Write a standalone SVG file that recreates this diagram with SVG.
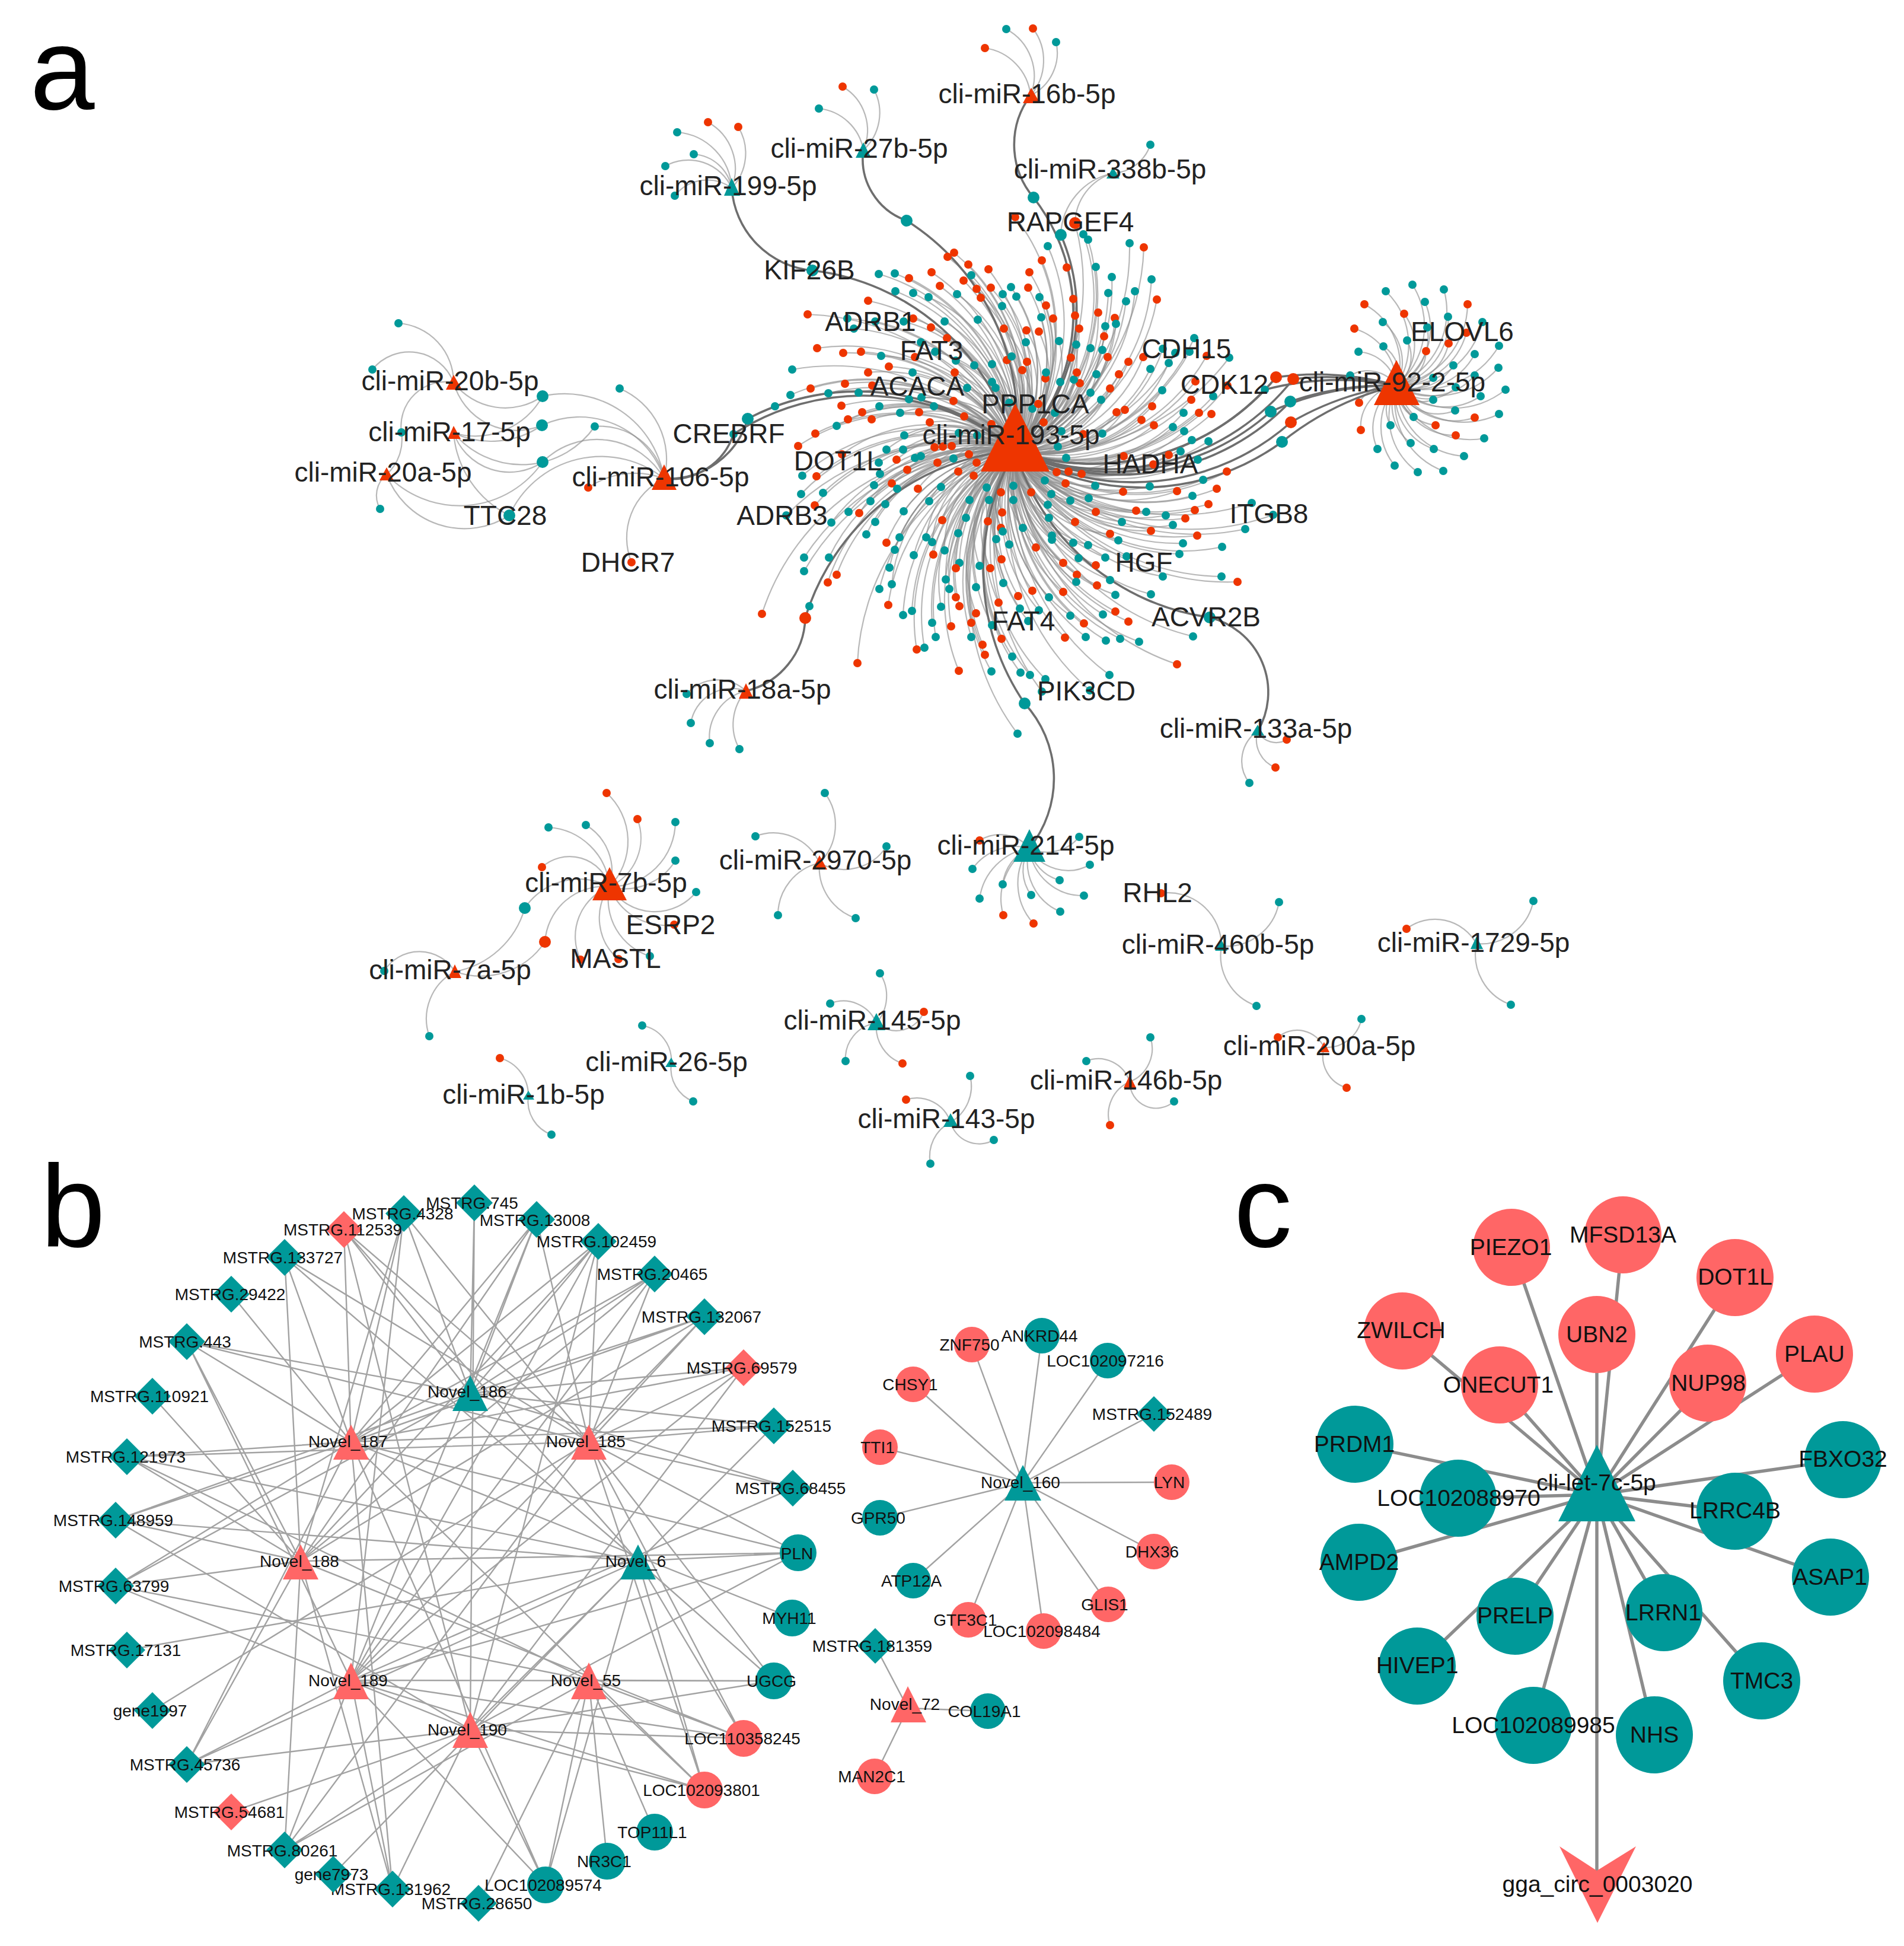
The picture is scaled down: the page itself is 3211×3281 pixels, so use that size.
<svg xmlns="http://www.w3.org/2000/svg" width="3211" height="3281" viewBox="0 0 3211 3281">
<style>
.r{fill:#ee3500;r:7px}.t{fill:#099;r:7px}.R{fill:#ee3500;r:10px}.T{fill:#099;r:10px}
.hr{fill:#ee3500}.ht{fill:#099}.pr{fill:#ff6666}.pt{fill:#099}
#ea path{fill:none;stroke:#8c8c8c;stroke-width:2.2;opacity:.62}
#eb path{fill:none;stroke:#6e6e6e;stroke-width:3.6}
#ec polyline,#ec path{fill:none;stroke:#a2a2a2;stroke-width:2.4}
#ed path{fill:none;stroke:#8c8c8c;stroke-width:5.5}
text{font-family:"Liberation Sans",Arial,sans-serif;text-anchor:middle}
.la{font-size:46px;fill:#222}.lb{font-size:28px;fill:#111}.lc{font-size:39px;fill:#111}.big{font-size:196px;fill:#000}
</style>
<rect width="3211" height="3281" fill="#fff"/>
<g id="connectors">
<g id="ea">
<path d="M1598 433A320 320 0 0 1 1712 760"/><path d="M1609 426A320 320 0 0 1 1712 760"/><path d="M1633 446A320 320 0 0 1 1712 760"/><path d="M1667 454A320 320 0 0 1 1712 760"/><path d="M1571 459A320 320 0 0 1 1712 760"/><path d="M1638 464A320 320 0 0 1 1712 760"/><path d="M1533 469A320 320 0 0 1 1712 760"/><path d="M1509 461A320 320 0 0 1 1712 760"/><path d="M1482 462A320 320 0 0 1 1712 760"/><path d="M1625 473A320 320 0 0 1 1712 760"/><path d="M1585 482A320 320 0 0 1 1712 760"/><path d="M1647 487A250 250 0 0 1 1712 760"/><path d="M1671 485A250 250 0 0 1 1712 760"/><path d="M1705 484A250 250 0 0 1 1712 760"/><path d="M1734 485A250 250 0 0 1 1712 760"/><path d="M1510 491A320 320 0 0 1 1712 760"/><path d="M1540 494A320 320 0 0 1 1712 760"/><path d="M1566 501A250 250 0 0 1 1712 760"/><path d="M1614 496A250 250 0 0 1 1712 760"/><path d="M1654 502A250 250 0 0 1 1712 760"/><path d="M1691 496A250 250 0 0 1 1712 760"/><path d="M1714 500A250 250 0 0 1 1712 760"/><path d="M1753 501A250 250 0 0 1 1712 760"/><path d="M1464 507A320 320 0 0 1 1712 760"/><path d="M1690 516A250 250 0 0 1 1712 760"/><path d="M1764 515A250 250 0 0 1 1712 760"/><path d="M1810 504A250 250 0 0 1 1712 760"/><path d="M1757 439A320 320 0 0 1 1712 760"/><path d="M1799 451A320 320 0 0 1 1712 760"/><path d="M1736 459A250 250 0 0 1 1712 760"/><path d="M1767 415A320 320 0 0 1 1712 760"/><path d="M1827 395A320 320 0 0 1 1712 760"/><path d="M1835 404A320 320 0 0 1 1712 760"/><path d="M1905 410A400 400 0 0 1 1712 760"/><path d="M1929 417A400 400 0 0 1 1712 760"/><path d="M1848 450A320 320 0 0 1 1712 760"/><path d="M1875 467A320 320 0 0 1 1712 760"/><path d="M1942 471A320 320 0 0 1 1712 760"/><path d="M1869 494A320 320 0 0 1 1712 760"/><path d="M1914 491A320 320 0 0 1 1712 760"/><path d="M1951 505A320 320 0 0 1 1712 760"/><path d="M1899 508A320 320 0 0 1 1712 760"/><path d="M1852 527A250 250 0 0 1 1712 760"/><path d="M1880 536A250 250 0 0 1 1712 760"/><path d="M1864 550A250 250 0 0 1 1712 760"/><path d="M1882 546A250 250 0 0 1 1712 760"/><path d="M1813 532A250 250 0 0 1 1712 760"/><path d="M1776 537A250 250 0 0 1 1712 760"/><path d="M1756 535A250 250 0 0 1 1712 760"/><path d="M1820 554A250 250 0 0 1 1712 760"/><path d="M1862 567A250 250 0 0 1 1712 760"/><path d="M1752 559A170 170 0 0 1 1712 760"/><path d="M1731 557A170 170 0 0 1 1712 760"/><path d="M1693 554A170 170 0 0 1 1712 760"/><path d="M1649 539A250 250 0 0 1 1712 760"/><path d="M1593 542A250 250 0 0 1 1712 760"/><path d="M1540 537A250 250 0 0 1 1712 760"/><path d="M1524 542A250 250 0 0 1 1712 760"/><path d="M1570 552A250 250 0 0 1 1712 760"/><path d="M1429 537A320 320 0 0 1 1712 760"/><path d="M1440 554A320 320 0 0 1 1712 760"/><path d="M1476 542A320 320 0 0 1 1712 760"/><path d="M1362 530A400 400 0 0 1 1712 760"/><path d="M1597 570A250 250 0 0 1 1712 760"/><path d="M1730 577A170 170 0 0 1 1712 760"/><path d="M1786 575A170 170 0 0 1 1712 760"/><path d="M1815 581A170 170 0 0 1 1712 760"/><path d="M1839 587A250 250 0 0 1 1712 760"/><path d="M1859 590A250 250 0 0 1 1712 760"/><path d="M1868 602A250 250 0 0 1 1712 760"/><path d="M1806 603A170 170 0 0 1 1712 760"/><path d="M1903 610A250 250 0 0 1 1712 760"/><path d="M1928 602A250 250 0 0 1 1712 760"/><path d="M1940 622A250 250 0 0 1 1712 760"/><path d="M1971 612A250 250 0 0 1 1712 760"/><path d="M2014 570A320 320 0 0 1 1712 760"/><path d="M1961 588A250 250 0 0 1 1712 760"/><path d="M1982 595A320 320 0 0 1 1712 760"/><path d="M2006 593A320 320 0 0 1 1712 760"/><path d="M2035 600A320 320 0 0 1 1712 760"/><path d="M2073 603A400 400 0 0 1 1712 760"/><path d="M2016 643A320 320 0 0 1 1712 760"/><path d="M2070 650A320 320 0 0 1 1712 760"/><path d="M2046 668A320 320 0 0 1 1712 760"/><path d="M2009 674A320 320 0 0 1 1712 760"/><path d="M1960 658A250 250 0 0 1 1712 760"/><path d="M1943 685A250 250 0 0 1 1712 760"/><path d="M1887 631A250 250 0 0 1 1712 760"/><path d="M1872 655A170 170 0 0 1 1712 760"/><path d="M1849 631A170 170 0 0 1 1712 760"/><path d="M1839 662A170 170 0 0 1 1712 760"/><path d="M1857 674A170 170 0 0 1 1712 760"/><path d="M1821 646A170 170 0 0 1 1712 760"/><path d="M1811 640A170 170 0 0 1 1712 760"/><path d="M1816 628A170 170 0 0 1 1712 760"/><path d="M1788 644A170 170 0 0 1 1712 760"/><path d="M1763 638A120 120 0 0 1 1712 760"/><path d="M1764 628A170 170 0 0 1 1712 760"/><path d="M1732 610A170 170 0 0 1 1712 760"/><path d="M1724 624A120 120 0 0 1 1712 760"/><path d="M1698 607A170 170 0 0 1 1712 760"/><path d="M1706 601A170 170 0 0 1 1712 760"/><path d="M1673 614A170 170 0 0 1 1712 760"/><path d="M1643 616A170 170 0 0 1 1712 760"/><path d="M1610 628A170 170 0 0 1 1712 760"/><path d="M1612 608A170 170 0 0 1 1712 760"/><path d="M1577 593A170 170 0 0 1 1712 760"/><path d="M1553 577A250 250 0 0 1 1712 760"/><path d="M1543 602A250 250 0 0 1 1712 760"/><path d="M1486 600A250 250 0 0 1 1712 760"/><path d="M1452 593A320 320 0 0 1 1712 760"/><path d="M1422 595A320 320 0 0 1 1712 760"/><path d="M1378 587A320 320 0 0 1 1712 760"/><path d="M1336 623A400 400 0 0 1 1712 760"/><path d="M1499 618A250 250 0 0 1 1712 760"/><path d="M1464 628A250 250 0 0 1 1712 760"/><path d="M1539 628A250 250 0 0 1 1712 760"/><path d="M1673 644A120 120 0 0 1 1712 760"/><path d="M1679 654A120 120 0 0 1 1712 760"/><path d="M1631 654A120 120 0 0 1 1712 760"/><path d="M1425 647A320 320 0 0 1 1712 760"/><path d="M1367 655A320 320 0 0 1 1712 760"/><path d="M1333 666A320 320 0 0 1 1712 760"/><path d="M1397 663A320 320 0 0 1 1712 760"/><path d="M1448 662A250 250 0 0 1 1712 760"/><path d="M1471 650A250 250 0 0 1 1712 760"/><path d="M1307 685A400 400 0 0 1 1712 760"/><path d="M1419 684A320 320 0 0 1 1712 760"/><path d="M1483 685A250 250 0 0 1 1712 760"/><path d="M1533 673A170 170 0 0 1 1712 760"/><path d="M1554 670A170 170 0 0 1 1712 760"/><path d="M1608 676A120 120 0 0 1 1712 760"/><path d="M1575 685A170 170 0 0 1 1712 760"/><path d="M1702 679A90 90 0 0 1 1712 760"/><path d="M1741 689A90 90 0 0 1 1712 760"/><path d="M1751 681A90 90 0 0 1 1712 760"/><path d="M1779 696A90 90 0 0 1 1712 760"/><path d="M1883 695A170 170 0 0 1 1712 760"/><path d="M1897 691A170 170 0 0 1 1712 760"/><path d="M2022 696A320 320 0 0 1 1712 760"/><path d="M1996 696A250 250 0 0 1 1712 760"/><path d="M2043 698A320 320 0 0 1 1712 760"/><path d="M1518 696A170 170 0 0 1 1712 760"/><path d="M1454 695A250 250 0 0 1 1712 760"/><path d="M1550 695A170 170 0 0 1 1712 760"/><path d="M1430 707A250 250 0 0 1 1712 760"/><path d="M1470 707A250 250 0 0 1 1712 760"/><path d="M1411 718A250 250 0 0 1 1712 760"/><path d="M1375 731A320 320 0 0 1 1712 760"/><path d="M1346 752A320 320 0 0 1 1712 760"/><path d="M1568 712A170 170 0 0 1 1712 760"/><path d="M1626 702A90 90 0 0 1 1712 760"/><path d="M1672 715A60 60 0 0 1 1712 760"/><path d="M1760 712A60 60 0 0 1 1712 760"/><path d="M1525 734A170 170 0 0 1 1712 760"/><path d="M1617 730A90 90 0 0 1 1712 760"/><path d="M1648 734A60 60 0 0 1 1712 760"/><path d="M1495 758A170 170 0 0 1 1712 760"/><path d="M1523 758A170 170 0 0 1 1712 760"/><path d="M1576 754A120 120 0 0 1 1712 760"/><path d="M1605 752A90 90 0 0 1 1712 760"/><path d="M1590 753A120 120 0 0 1 1712 760"/><path d="M1634 766A60 60 0 0 1 1712 760"/><path d="M1420 766A250 250 0 0 1 1712 760"/><path d="M1353 802A320 320 0 0 1 1712 760"/><path d="M1377 803A320 320 0 0 1 1712 760"/><path d="M1482 780A250 250 0 0 1 1712 760"/><path d="M1484 799A250 250 0 0 1 1712 760"/><path d="M1512 775A170 170 0 0 1 1712 760"/><path d="M1543 772A170 170 0 0 1 1712 760"/><path d="M1553 769A170 170 0 0 1 1712 760"/><path d="M1581 780A120 120 0 0 1 1712 760"/><path d="M1608 773A90 90 0 0 1 1712 760"/><path d="M1647 780A60 60 0 0 1 1712 760"/><path d="M1616 795A90 90 0 0 1 1712 760"/><path d="M1530 792A170 170 0 0 1 1712 760"/><path d="M1642 802A90 90 0 0 1 1712 760"/><path d="M1504 815A250 250 0 0 1 1712 760"/><path d="M1474 818A250 250 0 0 1 1712 760"/><path d="M1513 824A250 250 0 0 1 1712 760"/><path d="M1548 824A170 170 0 0 1 1712 760"/><path d="M1587 821A170 170 0 0 1 1712 760"/><path d="M1664 822A90 90 0 0 1 1712 760"/><path d="M1709 819A60 60 0 0 1 1712 760"/><path d="M1688 830A60 60 0 0 1 1712 760"/><path d="M1739 830A60 60 0 0 1 1712 760"/><path d="M1762 810A60 60 0 0 1 1712 760"/><path d="M1797 815A90 90 0 0 1 1712 760"/><path d="M1782 796A90 90 0 0 1 1712 760"/><path d="M1802 795A90 90 0 0 1 1712 760"/><path d="M1824 799A120 120 0 0 1 1712 760"/><path d="M1798 772A90 90 0 0 1 1712 760"/><path d="M1773 833A90 90 0 0 1 1712 760"/><path d="M1351 833A320 320 0 0 1 1712 760"/><path d="M1388 831A320 320 0 0 1 1712 760"/><path d="M1374 852A320 320 0 0 1 1712 760"/><path d="M1326 869A400 400 0 0 1 1712 760"/><path d="M1468 845A250 250 0 0 1 1712 760"/><path d="M1493 850A250 250 0 0 1 1712 760"/><path d="M1567 845A170 170 0 0 1 1712 760"/><path d="M1635 843A120 120 0 0 1 1712 760"/><path d="M1668 843A90 90 0 0 1 1712 760"/><path d="M1709 843A90 90 0 0 1 1712 760"/><path d="M1767 851A120 120 0 0 1 1712 760"/><path d="M1805 844A120 120 0 0 1 1712 760"/><path d="M1836 840A170 170 0 0 1 1712 760"/><path d="M1847 819A170 170 0 0 1 1712 760"/><path d="M1894 829A170 170 0 0 1 1712 760"/><path d="M1939 820A250 250 0 0 1 1712 760"/><path d="M1985 828A250 250 0 0 1 1712 760"/><path d="M2029 809A320 320 0 0 1 1712 760"/><path d="M2052 824A320 320 0 0 1 1712 760"/><path d="M2069 795A320 320 0 0 1 1712 760"/><path d="M2011 836A320 320 0 0 1 1712 760"/><path d="M2020 775A320 320 0 0 1 1712 760"/><path d="M1991 761A250 250 0 0 1 1712 760"/><path d="M1971 767A250 250 0 0 1 1712 760"/><path d="M1945 783A250 250 0 0 1 1712 760"/><path d="M1895 769A170 170 0 0 1 1712 760"/><path d="M2038 744A320 320 0 0 1 1712 760"/><path d="M2010 742A250 250 0 0 1 1712 760"/><path d="M1997 727A250 250 0 0 1 1712 760"/><path d="M1978 720A250 250 0 0 1 1712 760"/><path d="M1946 717A250 250 0 0 1 1712 760"/><path d="M1925 708A250 250 0 0 1 1712 760"/><path d="M1859 731A170 170 0 0 1 1712 760"/><path d="M1827 732A120 120 0 0 1 1712 760"/><path d="M1790 727A90 90 0 0 1 1712 760"/><path d="M1784 753A90 90 0 0 1 1712 760"/><path d="M1449 865A250 250 0 0 1 1712 760"/><path d="M1431 863A320 320 0 0 1 1712 760"/><path d="M1402 881A320 320 0 0 1 1712 760"/><path d="M1524 862A250 250 0 0 1 1712 760"/><path d="M1476 880A250 250 0 0 1 1712 760"/><path d="M1589 877A170 170 0 0 1 1712 760"/><path d="M1629 873A170 170 0 0 1 1712 760"/><path d="M1666 879A120 120 0 0 1 1712 760"/><path d="M1690 864A90 90 0 0 1 1712 760"/><path d="M1769 873A120 120 0 0 1 1712 760"/><path d="M1813 880A170 170 0 0 1 1712 760"/><path d="M1848 863A170 170 0 0 1 1712 760"/><path d="M1892 880A250 250 0 0 1 1712 760"/><path d="M1916 861A250 250 0 0 1 1712 760"/><path d="M1933 863A250 250 0 0 1 1712 760"/><path d="M1966 869A250 250 0 0 1 1712 760"/><path d="M1978 885A250 250 0 0 1 1712 760"/><path d="M1999 874A320 320 0 0 1 1712 760"/><path d="M2015 860A320 320 0 0 1 1712 760"/><path d="M2038 850A320 320 0 0 1 1712 760"/><path d="M2111 848A400 400 0 0 1 1712 760"/><path d="M2147 868A400 400 0 0 1 1712 760"/><path d="M2100 892A400 400 0 0 1 1712 760"/><path d="M2019 903A320 320 0 0 1 1712 760"/><path d="M1941 895A250 250 0 0 1 1712 760"/><path d="M1872 900A170 170 0 0 1 1712 760"/><path d="M1886 911A250 250 0 0 1 1712 760"/><path d="M1835 919A170 170 0 0 1 1712 760"/><path d="M1810 915A170 170 0 0 1 1712 760"/><path d="M1774 903A170 170 0 0 1 1712 760"/><path d="M1774 910A170 170 0 0 1 1712 760"/><path d="M1725 890A120 120 0 0 1 1712 760"/><path d="M1688 890A120 120 0 0 1 1712 760"/><path d="M1691 896A120 120 0 0 1 1712 760"/><path d="M1680 909A170 170 0 0 1 1712 760"/><path d="M1702 918A170 170 0 0 1 1712 760"/><path d="M1747 923A170 170 0 0 1 1712 760"/><path d="M1616 899A170 170 0 0 1 1712 760"/><path d="M1562 906A170 170 0 0 1 1712 760"/><path d="M1572 914A170 170 0 0 1 1712 760"/><path d="M1517 906A250 250 0 0 1 1712 760"/><path d="M1461 901A250 250 0 0 1 1712 760"/><path d="M1495 915A250 250 0 0 1 1712 760"/><path d="M1509 927A250 250 0 0 1 1712 760"/><path d="M1541 936A250 250 0 0 1 1712 760"/><path d="M1574 935A250 250 0 0 1 1712 760"/><path d="M1593 928A170 170 0 0 1 1712 760"/><path d="M1618 949A250 250 0 0 1 1712 760"/><path d="M1612 958A250 250 0 0 1 1712 760"/><path d="M1652 954A170 170 0 0 1 1712 760"/><path d="M1670 958A170 170 0 0 1 1712 760"/><path d="M1689 943A170 170 0 0 1 1712 760"/><path d="M1793 949A170 170 0 0 1 1712 760"/><path d="M1819 941A250 250 0 0 1 1712 760"/><path d="M1864 940A250 250 0 0 1 1712 760"/><path d="M1900 938A250 250 0 0 1 1712 760"/><path d="M1848 953A250 250 0 0 1 1712 760"/><path d="M1816 969A250 250 0 0 1 1712 760"/><path d="M1815 981A250 250 0 0 1 1712 760"/><path d="M1850 987A250 250 0 0 1 1712 760"/><path d="M1872 978A250 250 0 0 1 1712 760"/><path d="M1961 972A320 320 0 0 1 1712 760"/><path d="M1989 934A320 320 0 0 1 1712 760"/><path d="M1995 916A320 320 0 0 1 1712 760"/><path d="M2061 922A320 320 0 0 1 1712 760"/><path d="M2060 972A400 400 0 0 1 1712 760"/><path d="M2087 981A400 400 0 0 1 1712 760"/><path d="M1941 1002A320 320 0 0 1 1712 760"/><path d="M1881 1003A250 250 0 0 1 1712 760"/><path d="M1793 998A250 250 0 0 1 1712 760"/><path d="M1769 1007A250 250 0 0 1 1712 760"/><path d="M1741 996A250 250 0 0 1 1712 760"/><path d="M1717 1005A250 250 0 0 1 1712 760"/><path d="M1692 983A250 250 0 0 1 1712 760"/><path d="M1646 990A250 250 0 0 1 1712 760"/><path d="M1595 977A250 250 0 0 1 1712 760"/><path d="M1601 993A250 250 0 0 1 1712 760"/><path d="M1612 1007A250 250 0 0 1 1712 760"/><path d="M1618 1022A250 250 0 0 1 1712 760"/><path d="M1587 1023A250 250 0 0 1 1712 760"/><path d="M1684 1016A250 250 0 0 1 1712 760"/><path d="M1720 1026A250 250 0 0 1 1712 760"/><path d="M1752 1029A250 250 0 0 1 1712 760"/><path d="M1881 1031A320 320 0 0 1 1712 760"/><path d="M1860 1036A320 320 0 0 1 1712 760"/><path d="M1903 1048A320 320 0 0 1 1712 760"/><path d="M1805 1038A250 250 0 0 1 1712 760"/><path d="M1828 1051A320 320 0 0 1 1712 760"/><path d="M1734 1047A250 250 0 0 1 1712 760"/><path d="M2012 1073A400 400 0 0 1 1712 760"/><path d="M1921 1082A320 320 0 0 1 1712 760"/><path d="M1889 1077A320 320 0 0 1 1712 760"/><path d="M1865 1080A320 320 0 0 1 1712 760"/><path d="M1831 1074A320 320 0 0 1 1712 760"/><path d="M1796 1075A320 320 0 0 1 1712 760"/><path d="M1689 1077A320 320 0 0 1 1712 760"/><path d="M1673 1054A250 250 0 0 1 1712 760"/><path d="M1638 1050A320 320 0 0 1 1712 760"/><path d="M1646 1034A250 250 0 0 1 1712 760"/><path d="M1638 1074A320 320 0 0 1 1712 760"/><path d="M1572 1050A320 320 0 0 1 1712 760"/><path d="M1604 1056A320 320 0 0 1 1712 760"/><path d="M1578 1074A320 320 0 0 1 1712 760"/><path d="M1538 1030A320 320 0 0 1 1712 760"/><path d="M1523 1037A320 320 0 0 1 1712 760"/><path d="M1498 1020A320 320 0 0 1 1712 760"/><path d="M1483 993A320 320 0 0 1 1712 760"/><path d="M1504 985A250 250 0 0 1 1712 760"/><path d="M1500 957A250 250 0 0 1 1712 760"/><path d="M1411 969A320 320 0 0 1 1712 760"/><path d="M1396 982A320 320 0 0 1 1712 760"/><path d="M1398 940A320 320 0 0 1 1712 760"/><path d="M1356 940A400 400 0 0 1 1712 760"/><path d="M1356 963A400 400 0 0 1 1712 760"/><path d="M1365 1022A400 400 0 0 1 1712 760"/><path d="M1285 1035A400 400 0 0 1 1712 760"/><path d="M1446 1118A400 400 0 0 1 1712 760"/><path d="M1546 1095A320 320 0 0 1 1712 760"/><path d="M1559 1092A320 320 0 0 1 1712 760"/><path d="M1617 1131A320 320 0 0 1 1712 760"/><path d="M1657 1087A320 320 0 0 1 1712 760"/><path d="M1661 1104A320 320 0 0 1 1712 760"/><path d="M1707 1107A320 320 0 0 1 1712 760"/><path d="M1672 1132A320 320 0 0 1 1712 760"/><path d="M1721 1134A320 320 0 0 1 1712 760"/><path d="M1737 1138A320 320 0 0 1 1712 760"/><path d="M1763 1145A320 320 0 0 1 1712 760"/><path d="M1757 1166A400 400 0 0 1 1712 760"/><path d="M1838 1164A400 400 0 0 1 1712 760"/><path d="M1871 1138A400 400 0 0 1 1712 760"/><path d="M1985 1120A400 400 0 0 1 1712 760"/><path d="M1716 1237A400 400 0 0 1 1712 760"/><path d="M1712 366A320 320 0 0 1 1712 760"/><path d="M1813 376A400 400 0 0 1 1712 760"/>
<path d="M1697 49A90 90 0 0 1 1738 161"/><path d="M1742 48A90 90 0 0 1 1738 161"/><path d="M1781 71A80 80 0 0 1 1738 161"/><path d="M1661 81A90 90 0 0 1 1738 161"/>
<path d="M1940 244A70 70 0 0 1 1877 292"/><path d="M1813 376A90 90 0 0 1 1877 292"/><path d="M1789 396A110 110 0 0 1 1877 292"/>
<path d="M1421 146A85 85 0 0 1 1456 253"/><path d="M1474 151A85 85 0 0 1 1456 253"/><path d="M1381 183A85 85 0 0 1 1456 253"/>
<path d="M1194 206A90 90 0 0 1 1234 317"/><path d="M1245 214A85 85 0 0 1 1234 317"/><path d="M1142 223A100 100 0 0 1 1234 317"/><path d="M1170 260A70 70 0 0 1 1234 317"/><path d="M1122 280A80 80 0 0 1 1234 317"/><path d="M1138 330A70 70 0 0 1 1234 317"/>
<path d="M2382 480A130 130 0 0 1 2355 650"/><path d="M2337 491A125 125 0 0 1 2355 650"/><path d="M2435 488A135 135 0 0 1 2355 650"/><path d="M2403 509A110 110 0 0 1 2355 650"/><path d="M2301 513A115 115 0 0 1 2355 650"/><path d="M2475 513A140 140 0 0 1 2355 650"/><path d="M2368 529A90 90 0 0 1 2355 650"/><path d="M2442 534A110 110 0 0 1 2355 650"/><path d="M2332 543A85 85 0 0 1 2355 650"/><path d="M2500 543A140 140 0 0 1 2355 650"/><path d="M2284 554A100 100 0 0 1 2355 650"/><path d="M2407 552A90 90 0 0 1 2355 650"/><path d="M2473 561A120 120 0 0 1 2355 650"/><path d="M2373 574A60 60 0 0 1 2355 650"/><path d="M2443 579A90 90 0 0 1 2355 650"/><path d="M2333 584A55 55 0 0 1 2355 650"/><path d="M2528 583A150 150 0 0 1 2355 650"/><path d="M2405 592A60 60 0 0 1 2355 650"/><path d="M2291 593A70 70 0 0 1 2355 650"/><path d="M2487 597A110 110 0 0 1 2355 650"/><path d="M2451 616A80 80 0 0 1 2355 650"/><path d="M2527 620A140 140 0 0 1 2355 650"/><path d="M2277 633A60 60 0 0 1 2355 650"/><path d="M2417 637A50 50 0 0 1 2355 650"/><path d="M2487 633A100 100 0 0 1 2355 650"/><path d="M2455 653A70 70 0 0 1 2355 650"/><path d="M2539 657A140 140 0 0 1 2355 650"/><path d="M2497 668A110 110 0 0 1 2355 650"/><path d="M2417 674A50 50 0 0 1 2355 650"/><path d="M2292 679A60 60 0 0 1 2355 650"/><path d="M2454 692A75 75 0 0 1 2355 650"/><path d="M2528 698A135 135 0 0 1 2355 650"/><path d="M2384 703A60 60 0 0 1 2355 650"/><path d="M2487 704A110 110 0 0 1 2355 650"/><path d="M2421 717A75 75 0 0 1 2355 650"/><path d="M2295 725A70 70 0 0 1 2355 650"/><path d="M2345 717A55 55 0 0 1 2355 650"/><path d="M2455 734A100 100 0 0 1 2355 650"/><path d="M2503 739A130 130 0 0 1 2355 650"/><path d="M2379 747A80 80 0 0 1 2355 650"/><path d="M2418 757A95 95 0 0 1 2355 650"/><path d="M2469 769A120 120 0 0 1 2355 650"/><path d="M2323 757A85 85 0 0 1 2355 650"/><path d="M2352 785A105 105 0 0 1 2355 650"/><path d="M2391 796A115 115 0 0 1 2355 650"/><path d="M2434 794A125 125 0 0 1 2355 650"/>
<path d="M672 545A100 100 0 0 1 765 645"/><path d="M628 623A80 80 0 0 1 765 645"/><path d="M915 668A110 110 0 0 1 765 645"/><path d="M914 717A110 110 0 0 1 765 645"/><path d="M677 729A75 75 0 0 1 765 645"/>
<path d="M915 668A130 130 0 0 1 765 730"/><path d="M914 717A150 150 0 0 1 765 730"/><path d="M1003 719A150 150 0 0 1 765 730"/><path d="M915 779A100 100 0 0 1 765 730"/><path d="M859 869A170 170 0 0 1 765 730"/>
<path d="M677 729A80 80 0 0 1 652 800"/><path d="M915 779A170 170 0 0 1 652 800"/><path d="M859 869A140 140 0 0 1 652 800"/><path d="M641 858A45 45 0 0 1 652 800"/>
<path d="M915 668A170 170 0 0 1 1120 807"/><path d="M914 717A150 150 0 0 1 1120 807"/><path d="M1003 719A110 110 0 0 1 1120 807"/><path d="M1045 655A130 130 0 0 1 1120 807"/><path d="M915 779A130 130 0 0 1 1120 807"/><path d="M859 869A170 170 0 0 1 1120 807"/><path d="M992 822A140 140 0 0 1 1120 807"/><path d="M1065 948A110 110 0 0 1 1120 807"/>
<path d="M1158 1170A70 70 0 0 1 1258 1165"/><path d="M1165 1219A70 70 0 0 1 1258 1165"/><path d="M1197 1253A80 80 0 0 1 1258 1165"/><path d="M1247 1263A85 85 0 0 1 1258 1165"/>
<path d="M1391 1337A90 90 0 0 1 1382 1455"/><path d="M1274 1410A85 85 0 0 1 1382 1455"/><path d="M1495 1427A85 85 0 0 1 1382 1455"/><path d="M1312 1543A90 90 0 0 1 1382 1455"/><path d="M1443 1548A90 90 0 0 1 1382 1455"/>
<path d="M1652 1417A65 65 0 0 1 1736 1430"/><path d="M1820 1411A70 70 0 0 1 1736 1430"/><path d="M1640 1465A90 90 0 0 1 1736 1430"/><path d="M1838 1458A75 75 0 0 1 1736 1430"/><path d="M1691 1491A75 75 0 0 1 1736 1430"/><path d="M1787 1484A70 70 0 0 1 1736 1430"/><path d="M1652 1515A100 100 0 0 1 1736 1430"/><path d="M1739 1509A70 70 0 0 1 1736 1430"/><path d="M1828 1510A90 90 0 0 1 1736 1430"/><path d="M1788 1537A90 90 0 0 1 1736 1430"/><path d="M1692 1543A100 100 0 0 1 1736 1430"/><path d="M1743 1557A100 100 0 0 1 1736 1430"/>
<path d="M1023 1337A110 110 0 0 1 1028 1495"/><path d="M1075 1381A90 90 0 0 1 1028 1495"/><path d="M925 1395A110 110 0 0 1 1028 1495"/><path d="M988 1391A90 90 0 0 1 1028 1495"/><path d="M1139 1386A110 110 0 0 1 1028 1495"/><path d="M1139 1451A100 100 0 0 1 1028 1495"/><path d="M914 1462A70 70 0 0 1 1028 1495"/><path d="M1174 1504A90 90 0 0 1 1028 1495"/><path d="M885 1531A110 110 0 0 1 1028 1495"/><path d="M919 1588A100 100 0 0 1 1028 1495"/><path d="M1137 1559A100 100 0 0 1 1028 1495"/><path d="M979 1618A90 90 0 0 1 1028 1495"/><path d="M1043 1617A90 90 0 0 1 1028 1495"/><path d="M1096 1612A100 100 0 0 1 1028 1495"/>
<path d="M885 1531A150 150 0 0 1 767 1638"/><path d="M919 1588A130 130 0 0 1 767 1638"/><path d="M648 1637A70 70 0 0 1 767 1638"/><path d="M724 1747A90 90 0 0 1 767 1638"/>
<path d="M1083 1729A60 60 0 0 1 1132 1793"/><path d="M1169 1857A60 60 0 0 1 1132 1793"/>
<path d="M843 1784A65 65 0 0 1 891 1848"/><path d="M930 1913A60 60 0 0 1 891 1848"/>
<path d="M1484 1641A70 70 0 0 1 1478 1725"/><path d="M1400 1692A60 60 0 0 1 1478 1725"/><path d="M1558 1706A50 50 0 0 1 1478 1725"/><path d="M1426 1789A60 60 0 0 1 1478 1725"/><path d="M1522 1793A65 65 0 0 1 1478 1725"/>
<path d="M1636 1814A70 70 0 0 1 1603 1892"/><path d="M1528 1854A60 60 0 0 1 1603 1892"/><path d="M1676 1922A50 50 0 0 1 1603 1892"/><path d="M1569 1962A65 65 0 0 1 1603 1892"/>
<path d="M1958 1506A90 90 0 0 1 2060 1595"/><path d="M2157 1521A90 90 0 0 1 2060 1595"/><path d="M2119 1696A90 90 0 0 1 2060 1595"/>
<path d="M2372 1566A80 80 0 0 1 2490 1591"/><path d="M2586 1519A90 90 0 0 1 2490 1591"/><path d="M2548 1694A90 90 0 0 1 2490 1591"/>
<path d="M2155 1749A50 50 0 0 1 2233 1766"/><path d="M2296 1718A60 60 0 0 1 2233 1766"/><path d="M2271 1834A55 55 0 0 1 2233 1766"/>
<path d="M1940 1749A60 60 0 0 1 1905 1824"/><path d="M1832 1789A55 55 0 0 1 1905 1824"/><path d="M1980 1857A45 45 0 0 1 1905 1824"/><path d="M1872 1897A60 60 0 0 1 1905 1824"/>
<path d="M2170 1247A35 35 0 0 1 2121 1233"/><path d="M2151 1294A50 50 0 0 1 2121 1233"/><path d="M2107 1320A60 60 0 0 1 2121 1233"/>
</g>
<g id="eb">
<path d="M1743 333A138 138 0 0 1 1738 161"/><path d="M1743 333A320 320 0 0 1 1712 760"/><path d="M1529 372A110 110 0 0 1 1456 253"/><path d="M1529 372A400 400 0 0 1 1712 760"/><path d="M1370 456A150 150 0 0 1 1234 317"/><path d="M1370 456A400 400 0 0 1 1712 760"/><path d="M1261 706A140 140 0 0 1 1120 807"/><path d="M1261 706A400 400 0 0 1 1712 760"/><path d="M1237 732A110 110 0 0 1 1120 807"/><path d="M1237 732A400 400 0 0 1 1712 760"/><path d="M1358 1042A130 130 0 0 1 1258 1165"/><path d="M1358 1042A400 400 0 0 1 1712 760"/><path d="M1728 1186A187 187 0 0 1 1736 1430"/><path d="M1728 1186A400 400 0 0 1 1712 760"/><path d="M2040 1041A130 130 0 0 1 2121 1233"/><path d="M2040 1041A400 400 0 0 1 1712 760"/><path d="M1789 396A320 320 0 0 1 1712 760"/>
<path d="M2152 636A500 500 0 0 1 2355 650"/><path d="M2152 636A400 400 0 0 1 1712 760"/><path d="M2181 639A500 500 0 0 1 2355 650"/><path d="M2181 639A400 400 0 0 1 1712 760"/><path d="M2133 657A500 500 0 0 1 2355 650"/><path d="M2133 657A400 400 0 0 1 1712 760"/><path d="M2176 677A500 500 0 0 1 2355 650"/><path d="M2176 677A400 400 0 0 1 1712 760"/><path d="M2143 694A500 500 0 0 1 2355 650"/><path d="M2143 694A400 400 0 0 1 1712 760"/><path d="M2177 712A500 500 0 0 1 2355 650"/><path d="M2177 712A400 400 0 0 1 1712 760"/><path d="M2162 745A500 500 0 0 1 2355 650"/><path d="M2162 745A400 400 0 0 1 1712 760"/>
</g>
<g id="ec">
<polyline points="800,2028 793,2349 800,2028 793,2916"/>
<polyline points="681,2046 592,2431 681,2046 507,2632 681,2046 793,2349 681,2046 993,2431 681,2046 592,2833"/>
<polyline points="580,2073 592,2431 580,2073 993,2431 580,2073 1076,2632 580,2073 793,2916 580,2073 793,2349"/>
<polyline points="905,2056 592,2431 905,2056 507,2632 905,2056 793,2349 905,2056 592,2833 905,2056 993,2431"/>
<polyline points="1009,2093 793,2349 1009,2093 592,2431 1009,2093 507,2632 1009,2093 592,2833 1009,2093 793,2916 1009,2093 993,2431"/>
<polyline points="480,2120 592,2431 480,2120 507,2632 480,2120 993,2431 480,2120 1076,2632"/>
<polyline points="1104,2148 793,2349 1104,2148 592,2431 1104,2148 507,2632 1104,2148 592,2833 1104,2148 993,2431"/>
<polyline points="390,2182 592,2431"/>
<polyline points="1188,2220 793,2349 1188,2220 592,2431 1188,2220 507,2632 1188,2220 993,2431 1188,2220 592,2833"/>
<polyline points="315,2262 793,2349 315,2262 993,2431 315,2262 592,2431 315,2262 507,2632 315,2262 592,2833"/>
<polyline points="1254,2306 793,2349 1254,2306 592,2431 1254,2306 993,2431 1254,2306 592,2833 1254,2306 793,2916"/>
<polyline points="257,2354 507,2632"/>
<polyline points="1305,2404 793,2349 1305,2404 592,2431 1305,2404 993,2431 1305,2404 793,2916"/>
<polyline points="214,2456 592,2431 214,2456 993,2431 214,2456 507,2632 214,2456 1076,2632 214,2456 993,2833"/>
<polyline points="1337,2509 793,2349 1337,2509 993,2431 1337,2509 592,2833"/>
<polyline points="195,2563 592,2431 195,2563 793,2349 195,2563 507,2632 195,2563 1076,2632 195,2563 793,2916"/>
<polyline points="195,2674 592,2431 195,2674 793,2349 195,2674 507,2632 195,2674 993,2833 195,2674 793,2916"/>
<polyline points="214,2782 1076,2632"/>
<polyline points="257,2884 993,2431"/>
<polyline points="315,2975 592,2431 315,2975 507,2632 315,2975 592,2833 315,2975 1076,2632 315,2975 793,2916"/>
<polyline points="390,3055 793,2916"/>
<polyline points="480,3119 507,2632 480,3119 993,2431 480,3119 592,2833 480,3119 793,2916 480,3119 993,2833"/>
<polyline points="562,3160 1076,2632"/>
<polyline points="662,3185 592,2431 662,3185 592,2833 662,3185 793,2916 662,3185 507,2632"/>
<polyline points="807,3209 993,2833"/>
<polyline points="1346,2618 592,2431 1346,2618 507,2632 1346,2618 993,2431 1346,2618 1076,2632 1346,2618 592,2833 1346,2618 793,2916"/>
<polyline points="1336,2728 592,2431"/>
<polyline points="1305,2834 592,2833 1305,2834 993,2833 1305,2834 1076,2632 1305,2834 993,2431 1305,2834 793,2916"/>
<polyline points="1254,2931 592,2833 1254,2931 993,2833 1254,2931 1076,2632 1254,2931 993,2431 1254,2931 793,2916 1254,2931 507,2632"/>
<polyline points="1188,3018 592,2833 1188,3018 993,2833 1188,3018 1076,2632 1188,3018 793,2916 1188,3018 592,2431 1188,3018 993,2431"/>
<polyline points="1104,3089 993,2833"/>
<polyline points="1024,3138 993,2833"/>
<polyline points="920,3178 793,2916 920,3178 1076,2632 920,3178 592,2833 920,3178 993,2833 920,3178 592,2431"/>
<path d="M1725 2500L1639 2267M1725 2500L1757 2252M1725 2500L1868 2294M1725 2500L1540 2334M1725 2500L1946 2384M1725 2500L1484 2440M1725 2500L1976 2499M1725 2500L1484 2559M1725 2500L1946 2616M1725 2500L1540 2665M1725 2500L1869 2705M1725 2500L1633 2731M1725 2500L1760 2750M1531 2880L1476 2775M1531 2880L1666 2885M1531 2880L1475 2995"/>
</g>
<g id="ed">
<path d="M2693 2520L2549 2103M2693 2520L2737 2082M2693 2520L2926 2154M2693 2520L2365 2244M2693 2520L2693 2250M2693 2520L3060 2283M2693 2520L2529 2335M2693 2520L2880 2332M2693 2520L2285 2435M2693 2520L3108 2461M2693 2520L2459 2526M2693 2520L2926 2548M2693 2520L2292 2634M2693 2520L3087 2659M2693 2520L2555 2725M2693 2520L2806 2719M2693 2520L2390 2809M2693 2520L2971 2834M2693 2520L2586 2909M2693 2520L2790 2925M2693 2520L2693 3155"/>
</g>
</g>
<g id="panel-a-targets">
<g id="a1"><circle class="r" cx="1598" cy="433"/></g><g id="a2"><circle class="r" cx="1609" cy="426"/></g><g id="a3"><circle class="r" cx="1633" cy="446"/></g><g id="a4"><circle class="r" cx="1667" cy="454"/></g><g id="a5"><circle class="r" cx="1571" cy="459"/></g><g id="a6"><circle class="t" cx="1638" cy="464"/></g><g id="a7"><circle class="r" cx="1533" cy="469"/></g><g id="a8"><circle class="t" cx="1509" cy="461"/></g><g id="a9"><circle class="t" cx="1482" cy="462"/></g><g id="a10"><circle class="r" cx="1625" cy="473"/></g><g id="a11"><circle class="r" cx="1585" cy="482"/></g><g id="a12"><circle class="r" cx="1647" cy="487"/></g><g id="a13"><circle class="r" cx="1671" cy="485"/></g><g id="a14"><circle class="t" cx="1705" cy="484"/></g><g id="a15"><circle class="r" cx="1734" cy="485"/></g><g id="a16"><circle class="t" cx="1510" cy="491"/></g><g id="a17"><circle class="t" cx="1540" cy="494"/></g><g id="a18"><circle class="t" cx="1566" cy="501"/></g><g id="a19"><circle class="t" cx="1614" cy="496"/></g><g id="a20"><circle class="r" cx="1654" cy="502"/></g><g id="a21"><circle class="t" cx="1691" cy="496"/></g><g id="a22"><circle class="t" cx="1714" cy="500"/></g><g id="a23"><circle class="t" cx="1753" cy="501"/></g><g id="a24"><circle class="r" cx="1464" cy="507"/></g><g id="a25"><circle class="t" cx="1690" cy="516"/></g><g id="a26"><circle class="r" cx="1764" cy="515"/></g><g id="a27"><circle class="r" cx="1810" cy="504"/></g><g id="a28"><circle class="r" cx="1757" cy="439"/></g><g id="a29"><circle class="r" cx="1799" cy="451"/></g><g id="a30"><circle class="r" cx="1736" cy="459"/></g><g id="a31"><circle class="t" cx="1767" cy="415"/></g><g id="a32"><circle class="T" cx="1789" cy="396"/></g><g id="a33"><circle class="t" cx="1827" cy="395"/></g><g id="a34"><circle class="t" cx="1835" cy="404"/></g><g id="a35"><circle class="t" cx="1905" cy="410"/></g><g id="a36"><circle class="r" cx="1929" cy="417"/></g><g id="a37"><circle class="t" cx="1848" cy="450"/></g><g id="a38"><circle class="t" cx="1875" cy="467"/></g><g id="a39"><circle class="t" cx="1942" cy="471"/></g><g id="a40"><circle class="t" cx="1869" cy="494"/></g><g id="a41"><circle class="t" cx="1914" cy="491"/></g><g id="a42"><circle class="r" cx="1951" cy="505"/></g><g id="a43"><circle class="t" cx="1899" cy="508"/></g><g id="a44"><circle class="r" cx="1852" cy="527"/></g><g id="a45"><circle class="r" cx="1880" cy="536"/></g><g id="a46"><circle class="t" cx="1864" cy="550"/></g><g id="a47"><circle class="t" cx="1882" cy="546"/></g><g id="a48"><circle class="r" cx="1813" cy="532"/></g><g id="a49"><circle class="r" cx="1776" cy="537"/></g><g id="a50"><circle class="t" cx="1756" cy="535"/></g><g id="a51"><circle class="r" cx="1820" cy="554"/></g><g id="a52"><circle class="r" cx="1862" cy="567"/></g><g id="a53"><circle class="r" cx="1752" cy="559"/></g><g id="a54"><circle class="r" cx="1731" cy="557"/></g><g id="a55"><circle class="r" cx="1693" cy="554"/></g><g id="a56"><circle class="t" cx="1649" cy="539"/></g><g id="a57"><circle class="t" cx="1593" cy="542"/></g><g id="a58"><circle class="r" cx="1540" cy="537"/></g><g id="a59"><circle class="t" cx="1524" cy="542"/></g><g id="a60"><circle class="r" cx="1570" cy="552"/></g><g id="a61"><circle class="t" cx="1429" cy="537"/></g><g id="a62"><circle class="t" cx="1440" cy="554"/></g><g id="a63"><circle class="t" cx="1476" cy="542"/></g><g id="a64"><circle class="r" cx="1362" cy="530"/></g><g id="a65"><circle class="r" cx="1597" cy="570"/></g><g id="a66"><circle class="t" cx="1730" cy="577"/></g><g id="a67"><circle class="t" cx="1786" cy="575"/></g><g id="a68"><circle class="t" cx="1815" cy="581"/></g><g id="a69"><circle class="t" cx="1839" cy="587"/></g><g id="a70"><circle class="t" cx="1859" cy="590"/></g><g id="a71"><circle class="r" cx="1868" cy="602"/></g><g id="a72"><circle class="r" cx="1806" cy="603"/></g><g id="a73"><circle class="r" cx="1903" cy="610"/></g><g id="a74"><circle class="r" cx="1928" cy="602"/></g><g id="a75"><circle class="t" cx="1940" cy="622"/></g><g id="a76"><circle class="t" cx="1971" cy="612"/></g><g id="a77"><circle class="t" cx="2014" cy="570"/></g><g id="a78"><circle class="t" cx="1961" cy="588"/></g><g id="a79"><circle class="t" cx="1982" cy="595"/></g><g id="a80"><circle class="t" cx="2006" cy="593"/></g><g id="a81"><circle class="r" cx="2035" cy="600"/></g><g id="a82"><circle class="t" cx="2073" cy="603"/></g><g id="a83"><circle class="r" cx="2016" cy="643"/></g><g id="a84"><circle class="r" cx="2070" cy="650"/></g><g id="a85"><circle class="t" cx="2046" cy="668"/></g><g id="a86"><circle class="r" cx="2009" cy="674"/></g><g id="a87"><circle class="t" cx="1960" cy="658"/></g><g id="a88"><circle class="r" cx="1943" cy="685"/></g><g id="a89"><circle class="r" cx="1887" cy="631"/></g><g id="a90"><circle class="r" cx="1872" cy="655"/></g><g id="a91"><circle class="t" cx="1849" cy="631"/></g><g id="a92"><circle class="t" cx="1839" cy="662"/></g><g id="a93"><circle class="t" cx="1857" cy="674"/></g><g id="a94"><circle class="r" cx="1821" cy="646"/></g><g id="a95"><circle class="t" cx="1811" cy="640"/></g><g id="a96"><circle class="r" cx="1816" cy="628"/></g><g id="a97"><circle class="t" cx="1788" cy="644"/></g><g id="a98"><circle class="r" cx="1763" cy="638"/></g><g id="a99"><circle class="t" cx="1764" cy="628"/></g><g id="a100"><circle class="r" cx="1732" cy="610"/></g><g id="a101"><circle class="r" cx="1724" cy="624"/></g><g id="a102"><circle class="r" cx="1698" cy="607"/></g><g id="a103"><circle class="t" cx="1706" cy="601"/></g><g id="a104"><circle class="t" cx="1673" cy="614"/></g><g id="a105"><circle class="t" cx="1643" cy="616"/></g><g id="a106"><circle class="r" cx="1610" cy="628"/></g><g id="a107"><circle class="t" cx="1612" cy="608"/></g><g id="a108"><circle class="t" cx="1577" cy="593"/></g><g id="a109"><circle class="t" cx="1553" cy="577"/></g><g id="a110"><circle class="r" cx="1543" cy="602"/></g><g id="a111"><circle class="t" cx="1486" cy="600"/></g><g id="a112"><circle class="r" cx="1452" cy="593"/></g><g id="a113"><circle class="r" cx="1422" cy="595"/></g><g id="a114"><circle class="r" cx="1378" cy="587"/></g><g id="a115"><circle class="t" cx="1336" cy="623"/></g><g id="a116"><circle class="r" cx="1499" cy="618"/></g><g id="a117"><circle class="r" cx="1464" cy="628"/></g><g id="a118"><circle class="t" cx="1539" cy="628"/></g><g id="a119"><circle class="t" cx="1673" cy="644"/></g><g id="a120"><circle class="t" cx="1679" cy="654"/></g><g id="a121"><circle class="t" cx="1631" cy="654"/></g><g id="a122"><circle class="r" cx="1425" cy="647"/></g><g id="a123"><circle class="r" cx="1367" cy="655"/></g><g id="a124"><circle class="t" cx="1333" cy="666"/></g><g id="a125"><circle class="t" cx="1397" cy="663"/></g><g id="a126"><circle class="t" cx="1448" cy="662"/></g><g id="a127"><circle class="r" cx="1471" cy="650"/></g><g id="a128"><circle class="t" cx="1307" cy="685"/></g><g id="a129"><circle class="r" cx="1419" cy="684"/></g><g id="a130"><circle class="t" cx="1483" cy="685"/></g><g id="a131"><circle class="t" cx="1533" cy="673"/></g><g id="a132"><circle class="t" cx="1554" cy="670"/></g><g id="a133"><circle class="r" cx="1608" cy="676"/></g><g id="a134"><circle class="t" cx="1575" cy="685"/></g><g id="a135"><circle class="t" cx="1702" cy="679"/></g><g id="a136"><circle class="t" cx="1741" cy="689"/></g><g id="a137"><circle class="r" cx="1751" cy="681"/></g><g id="a138"><circle class="t" cx="1779" cy="696"/></g><g id="a139"><circle class="r" cx="1883" cy="695"/></g><g id="a140"><circle class="r" cx="1897" cy="691"/></g><g id="a141"><circle class="r" cx="2022" cy="696"/></g><g id="a142"><circle class="t" cx="1996" cy="696"/></g><g id="a143"><circle class="r" cx="2043" cy="698"/></g><g id="a144"><circle class="t" cx="1518" cy="696"/></g><g id="a145"><circle class="r" cx="1454" cy="695"/></g><g id="a146"><circle class="r" cx="1550" cy="695"/></g><g id="a147"><circle class="r" cx="1430" cy="707"/></g><g id="a148"><circle class="r" cx="1470" cy="707"/></g><g id="a149"><circle class="t" cx="1411" cy="718"/></g><g id="a150"><circle class="r" cx="1375" cy="731"/></g><g id="a151"><circle class="r" cx="1346" cy="752"/></g><g id="a152"><circle class="T" cx="1261" cy="706"/></g><g id="a153"><circle class="t" cx="1237" cy="732"/></g><g id="a154"><circle class="r" cx="1568" cy="712"/></g><g id="a155"><circle class="r" cx="1626" cy="702"/></g><g id="a156"><circle class="r" cx="1672" cy="715"/></g><g id="a157"><circle class="r" cx="1760" cy="712"/></g><g id="a158"><circle class="t" cx="1525" cy="734"/></g><g id="a159"><circle class="t" cx="1617" cy="730"/></g><g id="a160"><circle class="t" cx="1648" cy="734"/></g><g id="a161"><circle class="t" cx="1495" cy="758"/></g><g id="a162"><circle class="t" cx="1523" cy="758"/></g><g id="a163"><circle class="r" cx="1576" cy="754"/></g><g id="a164"><circle class="r" cx="1605" cy="752"/></g><g id="a165"><circle class="r" cx="1590" cy="753"/></g><g id="a166"><circle class="r" cx="1634" cy="766"/></g><g id="a167"><circle class="r" cx="1420" cy="766"/></g><g id="a168"><circle class="t" cx="1353" cy="802"/></g><g id="a169"><circle class="r" cx="1377" cy="803"/></g><g id="a170"><circle class="t" cx="1482" cy="780"/></g><g id="a171"><circle class="t" cx="1484" cy="799"/></g><g id="a172"><circle class="r" cx="1512" cy="775"/></g><g id="a173"><circle class="t" cx="1543" cy="772"/></g><g id="a174"><circle class="t" cx="1553" cy="769"/></g><g id="a175"><circle class="r" cx="1581" cy="780"/></g><g id="a176"><circle class="t" cx="1608" cy="773"/></g><g id="a177"><circle class="r" cx="1647" cy="780"/></g><g id="a178"><circle class="r" cx="1616" cy="795"/></g><g id="a179"><circle class="r" cx="1530" cy="792"/></g><g id="a180"><circle class="r" cx="1642" cy="802"/></g><g id="a181"><circle class="r" cx="1504" cy="815"/></g><g id="a182"><circle class="t" cx="1474" cy="818"/></g><g id="a183"><circle class="t" cx="1513" cy="824"/></g><g id="a184"><circle class="r" cx="1548" cy="824"/></g><g id="a185"><circle class="t" cx="1587" cy="821"/></g><g id="a186"><circle class="t" cx="1664" cy="822"/></g><g id="a187"><circle class="t" cx="1709" cy="819"/></g><g id="a188"><circle class="r" cx="1688" cy="830"/></g><g id="a189"><circle class="r" cx="1739" cy="830"/></g><g id="a190"><circle class="t" cx="1762" cy="810"/></g><g id="a191"><circle class="r" cx="1797" cy="815"/></g><g id="a192"><circle class="r" cx="1782" cy="796"/></g><g id="a193"><circle class="r" cx="1802" cy="795"/></g><g id="a194"><circle class="r" cx="1824" cy="799"/></g><g id="a195"><circle class="t" cx="1798" cy="772"/></g><g id="a196"><circle class="t" cx="1773" cy="833"/></g><g id="a197"><circle class="t" cx="1351" cy="833"/></g><g id="a198"><circle class="t" cx="1388" cy="831"/></g><g id="a199"><circle class="r" cx="1374" cy="852"/></g><g id="a200"><circle class="t" cx="1326" cy="869"/></g><g id="a201"><circle class="t" cx="1468" cy="845"/></g><g id="a202"><circle class="t" cx="1493" cy="850"/></g><g id="a203"><circle class="t" cx="1567" cy="845"/></g><g id="a204"><circle class="t" cx="1635" cy="843"/></g><g id="a205"><circle class="t" cx="1668" cy="843"/></g><g id="a206"><circle class="t" cx="1709" cy="843"/></g><g id="a207"><circle class="t" cx="1767" cy="851"/></g><g id="a208"><circle class="t" cx="1805" cy="844"/></g><g id="a209"><circle class="t" cx="1836" cy="840"/></g><g id="a210"><circle class="t" cx="1847" cy="819"/></g><g id="a211"><circle class="r" cx="1894" cy="829"/></g><g id="a212"><circle class="t" cx="1939" cy="820"/></g><g id="a213"><circle class="r" cx="1985" cy="828"/></g><g id="a214"><circle class="t" cx="2029" cy="809"/></g><g id="a215"><circle class="r" cx="2052" cy="824"/></g><g id="a216"><circle class="r" cx="2069" cy="795"/></g><g id="a217"><circle class="t" cx="2011" cy="836"/></g><g id="a218"><circle class="t" cx="2020" cy="775"/></g><g id="a219"><circle class="t" cx="1991" cy="761"/></g><g id="a220"><circle class="r" cx="1971" cy="767"/></g><g id="a221"><circle class="r" cx="1945" cy="783"/></g><g id="a222"><circle class="r" cx="1895" cy="769"/></g><g id="a223"><circle class="t" cx="2038" cy="744"/></g><g id="a224"><circle class="t" cx="2010" cy="742"/></g><g id="a225"><circle class="t" cx="1997" cy="727"/></g><g id="a226"><circle class="t" cx="1978" cy="720"/></g><g id="a227"><circle class="r" cx="1946" cy="717"/></g><g id="a228"><circle class="r" cx="1925" cy="708"/></g><g id="a229"><circle class="t" cx="1859" cy="731"/></g><g id="a230"><circle class="r" cx="1827" cy="732"/></g><g id="a231"><circle class="t" cx="1790" cy="727"/></g><g id="a232"><circle class="t" cx="1784" cy="753"/></g>
<g id="a233"><circle class="r" cx="1449" cy="865"/></g><g id="a234"><circle class="t" cx="1431" cy="863"/></g><g id="a235"><circle class="t" cx="1402" cy="881"/></g><g id="a236"><circle class="t" cx="1524" cy="862"/></g><g id="a237"><circle class="t" cx="1476" cy="880"/></g><g id="a238"><circle class="r" cx="1589" cy="877"/></g><g id="a239"><circle class="t" cx="1629" cy="873"/></g><g id="a240"><circle class="r" cx="1666" cy="879"/></g><g id="a241"><circle class="r" cx="1690" cy="864"/></g><g id="a242"><circle class="t" cx="1769" cy="873"/></g><g id="a243"><circle class="r" cx="1813" cy="880"/></g><g id="a244"><circle class="r" cx="1848" cy="863"/></g><g id="a245"><circle class="t" cx="1892" cy="880"/></g><g id="a246"><circle class="r" cx="1916" cy="861"/></g><g id="a247"><circle class="t" cx="1933" cy="863"/></g><g id="a248"><circle class="t" cx="1966" cy="869"/></g><g id="a249"><circle class="t" cx="1978" cy="885"/></g><g id="a250"><circle class="r" cx="1999" cy="874"/></g><g id="a251"><circle class="r" cx="2015" cy="860"/></g><g id="a252"><circle class="r" cx="2038" cy="850"/></g><g id="a253"><circle class="t" cx="2111" cy="848"/></g><g id="a254"><circle class="t" cx="2147" cy="868"/></g><g id="a255"><circle class="t" cx="2100" cy="892"/></g><g id="a256"><circle class="r" cx="2019" cy="903"/></g><g id="a257"><circle class="r" cx="1941" cy="895"/></g><g id="a258"><circle class="r" cx="1872" cy="900"/></g><g id="a259"><circle class="t" cx="1886" cy="911"/></g><g id="a260"><circle class="t" cx="1835" cy="919"/></g><g id="a261"><circle class="t" cx="1810" cy="915"/></g><g id="a262"><circle class="t" cx="1774" cy="903"/></g><g id="a263"><circle class="t" cx="1774" cy="910"/></g><g id="a264"><circle class="t" cx="1725" cy="890"/></g><g id="a265"><circle class="r" cx="1688" cy="890"/></g><g id="a266"><circle class="t" cx="1691" cy="896"/></g><g id="a267"><circle class="t" cx="1680" cy="909"/></g><g id="a268"><circle class="t" cx="1702" cy="918"/></g><g id="a269"><circle class="r" cx="1747" cy="923"/></g><g id="a270"><circle class="t" cx="1616" cy="899"/></g><g id="a271"><circle class="t" cx="1562" cy="906"/></g><g id="a272"><circle class="t" cx="1572" cy="914"/></g><g id="a273"><circle class="t" cx="1517" cy="906"/></g><g id="a274"><circle class="t" cx="1461" cy="901"/></g><g id="a275"><circle class="r" cx="1495" cy="915"/></g><g id="a276"><circle class="t" cx="1509" cy="927"/></g><g id="a277"><circle class="t" cx="1541" cy="936"/></g><g id="a278"><circle class="r" cx="1574" cy="935"/></g><g id="a279"><circle class="t" cx="1593" cy="928"/></g><g id="a280"><circle class="t" cx="1618" cy="949"/></g><g id="a281"><circle class="r" cx="1612" cy="958"/></g><g id="a282"><circle class="t" cx="1652" cy="954"/></g><g id="a283"><circle class="r" cx="1670" cy="958"/></g><g id="a284"><circle class="r" cx="1689" cy="943"/></g><g id="a285"><circle class="r" cx="1793" cy="949"/></g><g id="a286"><circle class="t" cx="1819" cy="941"/></g><g id="a287"><circle class="t" cx="1864" cy="940"/></g><g id="a288"><circle class="t" cx="1900" cy="938"/></g><g id="a289"><circle class="r" cx="1848" cy="953"/></g><g id="a290"><circle class="r" cx="1816" cy="969"/></g><g id="a291"><circle class="t" cx="1815" cy="981"/></g><g id="a292"><circle class="r" cx="1850" cy="987"/></g><g id="a293"><circle class="t" cx="1872" cy="978"/></g><g id="a294"><circle class="t" cx="1961" cy="972"/></g><g id="a295"><circle class="t" cx="1989" cy="934"/></g><g id="a296"><circle class="t" cx="1995" cy="916"/></g><g id="a297"><circle class="t" cx="2061" cy="922"/></g><g id="a298"><circle class="t" cx="2060" cy="972"/></g><g id="a299"><circle class="r" cx="2087" cy="981"/></g><g id="a300"><circle class="t" cx="1941" cy="1002"/></g><g id="a301"><circle class="t" cx="1881" cy="1003"/></g><g id="a302"><circle class="r" cx="1793" cy="998"/></g><g id="a303"><circle class="t" cx="1769" cy="1007"/></g><g id="a304"><circle class="r" cx="1741" cy="996"/></g><g id="a305"><circle class="r" cx="1717" cy="1005"/></g><g id="a306"><circle class="t" cx="1692" cy="983"/></g><g id="a307"><circle class="t" cx="1646" cy="990"/></g><g id="a308"><circle class="t" cx="1595" cy="977"/></g><g id="a309"><circle class="t" cx="1601" cy="993"/></g><g id="a310"><circle class="r" cx="1612" cy="1007"/></g><g id="a311"><circle class="r" cx="1618" cy="1022"/></g><g id="a312"><circle class="t" cx="1587" cy="1023"/></g><g id="a313"><circle class="r" cx="1684" cy="1016"/></g><g id="a314"><circle class="t" cx="1720" cy="1026"/></g><g id="a315"><circle class="t" cx="1752" cy="1029"/></g><g id="a316"><circle class="r" cx="1881" cy="1031"/></g><g id="a317"><circle class="t" cx="1860" cy="1036"/></g><g id="a318"><circle class="r" cx="1903" cy="1048"/></g><g id="a319"><circle class="t" cx="1805" cy="1038"/></g><g id="a320"><circle class="r" cx="1828" cy="1051"/></g><g id="a321"><circle class="t" cx="1734" cy="1047"/></g><g id="a322"><circle class="T" cx="2040" cy="1041"/></g><g id="a323"><circle class="t" cx="2012" cy="1073"/></g><g id="a324"><circle class="t" cx="1921" cy="1082"/></g><g id="a325"><circle class="t" cx="1889" cy="1077"/></g><g id="a326"><circle class="t" cx="1865" cy="1080"/></g><g id="a327"><circle class="t" cx="1831" cy="1074"/></g><g id="a328"><circle class="r" cx="1796" cy="1075"/></g><g id="a329"><circle class="r" cx="1689" cy="1077"/></g><g id="a330"><circle class="t" cx="1673" cy="1054"/></g><g id="a331"><circle class="r" cx="1638" cy="1050"/></g><g id="a332"><circle class="r" cx="1646" cy="1034"/></g><g id="a333"><circle class="t" cx="1638" cy="1074"/></g><g id="a334"><circle class="t" cx="1572" cy="1050"/></g><g id="a335"><circle class="r" cx="1604" cy="1056"/></g><g id="a336"><circle class="t" cx="1578" cy="1074"/></g><g id="a337"><circle class="t" cx="1538" cy="1030"/></g><g id="a338"><circle class="t" cx="1523" cy="1037"/></g><g id="a339"><circle class="r" cx="1498" cy="1020"/></g><g id="a340"><circle class="t" cx="1483" cy="993"/></g><g id="a341"><circle class="t" cx="1504" cy="985"/></g><g id="a342"><circle class="t" cx="1500" cy="957"/></g><g id="a343"><circle class="r" cx="1411" cy="969"/></g><g id="a344"><circle class="r" cx="1396" cy="982"/></g><g id="a345"><circle class="t" cx="1398" cy="940"/></g><g id="a346"><circle class="t" cx="1356" cy="940"/></g><g id="a347"><circle class="t" cx="1356" cy="963"/></g><g id="a348"><circle class="t" cx="1365" cy="1022"/></g><g id="a349"><circle class="R" cx="1358" cy="1042"/></g><g id="a350"><circle class="r" cx="1285" cy="1035"/></g><g id="a351"><circle class="r" cx="1446" cy="1118"/></g><g id="a352"><circle class="r" cx="1546" cy="1095"/></g><g id="a353"><circle class="t" cx="1559" cy="1092"/></g><g id="a354"><circle class="r" cx="1617" cy="1131"/></g><g id="a355"><circle class="r" cx="1657" cy="1087"/></g><g id="a356"><circle class="r" cx="1661" cy="1104"/></g><g id="a357"><circle class="t" cx="1707" cy="1107"/></g><g id="a358"><circle class="t" cx="1672" cy="1132"/></g><g id="a359"><circle class="t" cx="1721" cy="1134"/></g><g id="a360"><circle class="t" cx="1737" cy="1138"/></g><g id="a361"><circle class="t" cx="1763" cy="1145"/></g><g id="a362"><circle class="t" cx="1757" cy="1166"/></g><g id="a363"><circle class="t" cx="1838" cy="1164"/></g><g id="a364"><circle class="t" cx="1871" cy="1138"/></g><g id="a365"><circle class="r" cx="1985" cy="1120"/></g><g id="a366"><circle class="t" cx="1716" cy="1237"/></g><g id="a367"><circle class="T" cx="1728" cy="1186"/></g><g id="a368"><circle class="r" cx="1712" cy="366"/></g><g id="a369"><circle class="R" cx="1813" cy="376"/></g><g id="a370"><circle class="T" cx="1743" cy="333"/></g><g id="a371"><circle class="T" cx="1529" cy="372"/></g><g id="a372"><circle class="T" cx="1370" cy="456"/></g>
<g id="a373"><circle class="R" cx="2152" cy="636"/></g><g id="a374"><circle class="R" cx="2181" cy="639"/></g><g id="a375"><circle class="t" cx="2133" cy="657"/></g><g id="a376"><circle class="T" cx="2176" cy="677"/></g><g id="a377"><circle class="T" cx="2143" cy="694"/></g><g id="a378"><circle class="R" cx="2177" cy="712"/></g><g id="a379"><circle class="T" cx="2162" cy="745"/></g>
<g id="b1"><circle class="t" cx="1697" cy="49"/></g><g id="b2"><circle class="r" cx="1742" cy="48"/></g><g id="b3"><circle class="t" cx="1781" cy="71"/></g><g id="b4"><circle class="r" cx="1661" cy="81"/></g><g id="b5"><circle class="t" cx="1940" cy="244"/></g><g id="b6"><circle class="r" cx="1421" cy="146"/></g><g id="b7"><circle class="t" cx="1474" cy="151"/></g><g id="b8"><circle class="t" cx="1381" cy="183"/></g><g id="b9"><circle class="r" cx="1194" cy="206"/></g><g id="b10"><circle class="r" cx="1245" cy="214"/></g><g id="b11"><circle class="t" cx="1142" cy="223"/></g><g id="b12"><circle class="t" cx="1170" cy="260"/></g><g id="b13"><circle class="t" cx="1122" cy="280"/></g><g id="b14"><circle class="t" cx="1138" cy="330"/></g>
<g id="c1"><circle class="t" cx="2382" cy="480"/></g><g id="c2"><circle class="t" cx="2337" cy="491"/></g><g id="c3"><circle class="t" cx="2435" cy="488"/></g><g id="c4"><circle class="t" cx="2403" cy="509"/></g><g id="c5"><circle class="r" cx="2301" cy="513"/></g><g id="c6"><circle class="r" cx="2475" cy="513"/></g><g id="c7"><circle class="r" cx="2368" cy="529"/></g><g id="c8"><circle class="t" cx="2442" cy="534"/></g><g id="c9"><circle class="t" cx="2332" cy="543"/></g><g id="c10"><circle class="t" cx="2500" cy="543"/></g><g id="c11"><circle class="r" cx="2284" cy="554"/></g><g id="c12"><circle class="t" cx="2407" cy="552"/></g><g id="c13"><circle class="r" cx="2473" cy="561"/></g><g id="c14"><circle class="t" cx="2373" cy="574"/></g><g id="c15"><circle class="r" cx="2443" cy="579"/></g><g id="c16"><circle class="t" cx="2333" cy="584"/></g><g id="c17"><circle class="t" cx="2528" cy="583"/></g><g id="c18"><circle class="r" cx="2405" cy="592"/></g><g id="c19"><circle class="t" cx="2291" cy="593"/></g><g id="c20"><circle class="t" cx="2487" cy="597"/></g><g id="c21"><circle class="t" cx="2451" cy="616"/></g><g id="c22"><circle class="t" cx="2527" cy="620"/></g><g id="c23"><circle class="t" cx="2277" cy="633"/></g><g id="c24"><circle class="t" cx="2417" cy="637"/></g><g id="c25"><circle class="t" cx="2487" cy="633"/></g><g id="c26"><circle class="t" cx="2455" cy="653"/></g><g id="c27"><circle class="t" cx="2539" cy="657"/></g><g id="c28"><circle class="t" cx="2497" cy="668"/></g><g id="c29"><circle class="t" cx="2417" cy="674"/></g><g id="c30"><circle class="r" cx="2292" cy="679"/></g><g id="c31"><circle class="t" cx="2454" cy="692"/></g><g id="c32"><circle class="t" cx="2528" cy="698"/></g><g id="c33"><circle class="t" cx="2384" cy="703"/></g><g id="c34"><circle class="r" cx="2487" cy="704"/></g><g id="c35"><circle class="r" cx="2421" cy="717"/></g><g id="c36"><circle class="r" cx="2295" cy="725"/></g><g id="c37"><circle class="t" cx="2345" cy="717"/></g><g id="c38"><circle class="r" cx="2455" cy="734"/></g><g id="c39"><circle class="t" cx="2503" cy="739"/></g><g id="c40"><circle class="t" cx="2379" cy="747"/></g><g id="c41"><circle class="t" cx="2418" cy="757"/></g><g id="c42"><circle class="t" cx="2469" cy="769"/></g><g id="c43"><circle class="t" cx="2323" cy="757"/></g><g id="c44"><circle class="t" cx="2352" cy="785"/></g><g id="c45"><circle class="t" cx="2391" cy="796"/></g><g id="c46"><circle class="t" cx="2434" cy="794"/></g>
<g id="d1"><circle class="t" cx="672" cy="545"/></g><g id="d2"><circle class="t" cx="628" cy="623"/></g><g id="d3"><circle class="T" cx="915" cy="668"/></g><g id="d4"><circle class="t" cx="1045" cy="655"/></g><g id="d5"><circle class="T" cx="914" cy="717"/></g><g id="d6"><circle class="t" cx="1003" cy="719"/></g><g id="d7"><circle class="t" cx="677" cy="729"/></g><g id="d8"><circle class="T" cx="915" cy="779"/></g><g id="d9"><circle class="r" cx="992" cy="822"/></g><g id="d10"><circle class="t" cx="641" cy="858"/></g><g id="d11"><circle class="T" cx="859" cy="869"/></g><g id="d12"><circle class="r" cx="1065" cy="948"/></g>
<g id="e1"><circle class="t" cx="1158" cy="1170"/></g><g id="e2"><circle class="t" cx="1165" cy="1219"/></g><g id="e3"><circle class="t" cx="1197" cy="1253"/></g><g id="e4"><circle class="t" cx="1247" cy="1263"/></g><g id="e5"><circle class="t" cx="1391" cy="1337"/></g><g id="e6"><circle class="t" cx="1274" cy="1410"/></g><g id="e7"><circle class="t" cx="1495" cy="1427"/></g><g id="e8"><circle class="t" cx="1312" cy="1543"/></g><g id="e9"><circle class="t" cx="1443" cy="1548"/></g>
<g id="f1"><circle class="r" cx="1652" cy="1417"/></g><g id="f2"><circle class="t" cx="1820" cy="1411"/></g><g id="f3"><circle class="t" cx="1640" cy="1465"/></g><g id="f4"><circle class="t" cx="1838" cy="1458"/></g><g id="f5"><circle class="t" cx="1691" cy="1491"/></g><g id="f6"><circle class="t" cx="1787" cy="1484"/></g><g id="f7"><circle class="t" cx="1652" cy="1515"/></g><g id="f8"><circle class="t" cx="1739" cy="1509"/></g><g id="f9"><circle class="t" cx="1828" cy="1510"/></g><g id="f10"><circle class="t" cx="1788" cy="1537"/></g><g id="f11"><circle class="r" cx="1692" cy="1543"/></g><g id="f12"><circle class="r" cx="1743" cy="1557"/></g>
<g id="g1"><circle class="r" cx="1023" cy="1337"/></g><g id="g2"><circle class="r" cx="1075" cy="1381"/></g><g id="g3"><circle class="t" cx="925" cy="1395"/></g><g id="g4"><circle class="t" cx="988" cy="1391"/></g><g id="g5"><circle class="t" cx="1139" cy="1386"/></g><g id="g6"><circle class="t" cx="1139" cy="1451"/></g><g id="g7"><circle class="r" cx="914" cy="1462"/></g><g id="g8"><circle class="t" cx="1174" cy="1504"/></g><g id="g9"><circle class="T" cx="885" cy="1531"/></g><g id="g10"><circle class="R" cx="919" cy="1588"/></g><g id="g11"><circle class="r" cx="1137" cy="1559"/></g><g id="g12"><circle class="r" cx="979" cy="1618"/></g><g id="g13"><circle class="r" cx="1043" cy="1617"/></g><g id="g14"><circle class="t" cx="1096" cy="1612"/></g><g id="g15"><circle class="t" cx="648" cy="1637"/></g><g id="g16"><circle class="t" cx="724" cy="1747"/></g>
<g id="h1"><circle class="t" cx="1083" cy="1729"/></g><g id="h2"><circle class="t" cx="1169" cy="1857"/></g><g id="h3"><circle class="r" cx="843" cy="1784"/></g><g id="h4"><circle class="t" cx="930" cy="1913"/></g><g id="h5"><circle class="t" cx="1484" cy="1641"/></g><g id="h6"><circle class="t" cx="1400" cy="1692"/></g><g id="h7"><circle class="r" cx="1558" cy="1706"/></g><g id="h8"><circle class="t" cx="1426" cy="1789"/></g><g id="h9"><circle class="r" cx="1522" cy="1793"/></g><g id="h10"><circle class="t" cx="1636" cy="1814"/></g><g id="h11"><circle class="r" cx="1528" cy="1854"/></g><g id="h12"><circle class="t" cx="1676" cy="1922"/></g><g id="h13"><circle class="t" cx="1569" cy="1962"/></g><g id="h14"><circle class="r" cx="1958" cy="1506"/></g><g id="h15"><circle class="t" cx="2157" cy="1521"/></g><g id="h16"><circle class="t" cx="2119" cy="1696"/></g><g id="h17"><circle class="r" cx="2372" cy="1566"/></g><g id="h18"><circle class="t" cx="2586" cy="1519"/></g><g id="h19"><circle class="t" cx="2548" cy="1694"/></g><g id="h20"><circle class="r" cx="2155" cy="1749"/></g><g id="h21"><circle class="t" cx="2296" cy="1718"/></g><g id="h22"><circle class="r" cx="2271" cy="1834"/></g><g id="h23"><circle class="t" cx="1940" cy="1749"/></g><g id="h24"><circle class="t" cx="1832" cy="1789"/></g><g id="h25"><circle class="t" cx="1980" cy="1857"/></g><g id="h26"><circle class="r" cx="1872" cy="1897"/></g><g id="h27"><circle class="r" cx="2170" cy="1247"/></g><g id="h28"><circle class="r" cx="2151" cy="1294"/></g><g id="h29"><circle class="t" cx="2107" cy="1320"/></g>
</g>
<g id="panel-a-hubs">
<g id="hub-193"><polygon class="hr" points="1712,680 1654,795 1770,795"/></g>
<g id="hub-92-2"><polygon class="hr" points="2355,607 2317,683 2394,683"/></g>
<g id="hub-16b"><polygon class="hr" points="1739,148 1725,174 1754,174"/></g>
<g id="hub-27b"><polygon class="ht" points="1456,240 1443,266 1469,266"/></g>
<g id="hub-199"><polygon class="ht" points="1234,300 1221,330 1248,330"/></g>
<g id="hub-338b"><polygon class="ht" points="1877,282 1866,301 1888,301"/></g>
<g id="hub-20b"><polygon class="hr" points="765,632 752,657 779,657"/></g>
<g id="hub-17"><polygon class="hr" points="765,718 755,740 777,740"/></g>
<g id="hub-20a"><polygon class="hr" points="652,788 640,810 664,810"/></g>
<g id="hub-106"><polygon class="hr" points="1120,783 1099,826 1141,826"/></g>
<g id="hub-18a"><polygon class="hr" points="1258,1152 1246,1178 1271,1178"/></g>
<g id="hub-133a"><polygon class="ht" points="2121,1222 2110,1240 2132,1240"/></g>
<g id="hub-7b"><polygon class="hr" points="1028,1462 999,1518 1057,1518"/></g>
<g id="hub-7a"><polygon class="hr" points="767,1626 756,1649 778,1649"/></g>
<g id="hub-2970"><polygon class="hr" points="1382,1442 1370,1466 1395,1466"/></g>
<g id="hub-214"><polygon class="ht" points="1736,1398 1709,1453 1763,1453"/></g>
<g id="hub-460b"><polygon class="ht" points="2060,1585 2049,1603 2070,1603"/></g>
<g id="hub-1729"><polygon class="ht" points="2490,1579 2480,1600 2501,1600"/></g>
<g id="hub-145"><polygon class="ht" points="1478,1708 1463,1737 1493,1737"/></g>
<g id="hub-26"><polygon class="ht" points="1132,1783 1122,1799 1141,1799"/></g>
<g id="hub-1b"><polygon class="ht" points="891,1839 882,1854 901,1854"/></g>
<g id="hub-143"><polygon class="ht" points="1603,1877 1591,1900 1616,1900"/></g>
<g id="hub-146b"><polygon class="hr" points="1905,1813 1895,1834 1916,1834"/></g>
<g id="hub-200a"><polygon class="hr" points="2233,1757 2223,1774 2242,1774"/></g>
</g>
<g id="panel-a-labels" class="la">
<text x="1732" y="174">cli-miR-16b-5p</text><text x="1449" y="266">cli-miR-27b-5p</text><text x="1228" y="329">cli-miR-199-5p</text><text x="1872" y="301">cli-miR-338b-5p</text><text x="1805" y="390">RAPGEF4</text><text x="1365" y="471">KIF26B</text><text x="1468" y="558">ADRB1</text><text x="1571" y="607">FAT3</text><text x="2001" y="604">CDH15</text><text x="2065" y="664">CDK12</text><text x="1547" y="667">ACACA</text><text x="1746" y="697">PPP1CA</text><text x="1705" y="749">cli-miR-193-5p</text><text x="1940" y="798">HADHA</text><text x="1229" y="747">CREBRF</text><text x="1413" y="793">DOT1L</text><text x="1319" y="885">ADRB3</text><text x="2140" y="882">ITGB8</text><text x="1929" y="964">HGF</text><text x="2034" y="1056">ACVR2B</text><text x="1726" y="1063">FAT4</text><text x="1832" y="1181">PIK3CD</text><text x="1252" y="1178">cli-miR-18a-5p</text><text x="2118" y="1244">cli-miR-133a-5p</text><text x="2466" y="575">ELOVL6</text><text x="2348" y="660">cli-miR-92-2-5p</text><text x="759" y="658">cli-miR-20b-5p</text><text x="758" y="744">cli-miR-17-5p</text><text x="646" y="812">cli-miR-20a-5p</text><text x="1114" y="820">cli-miR-106-5p</text><text x="852" y="885">TTC28</text><text x="1059" y="964">DHCR7</text><text x="1022" y="1504">cli-miR-7b-5p</text><text x="1131" y="1575">ESRP2</text><text x="1038" y="1632">MASTL</text><text x="759" y="1651">cli-miR-7a-5p</text><text x="1375" y="1466">cli-miR-2970-5p</text><text x="1730" y="1441">cli-miR-214-5p</text><text x="1952" y="1521">RHL2</text><text x="2054" y="1608">cli-miR-460b-5p</text><text x="2485" y="1605">cli-miR-1729-5p</text><text x="2225" y="1779">cli-miR-200a-5p</text><text x="1899" y="1837">cli-miR-146b-5p</text><text x="1596" y="1902">cli-miR-143-5p</text><text x="1471" y="1736">cli-miR-145-5p</text><text x="1124" y="1806">cli-miR-26-5p</text><text x="883" y="1861">cli-miR-1b-5p</text>
</g>
<g id="panel-b-nodes" class="lb">
<g id="m745"><polygon class="pt" points="800,1997 831,2028 800,2059 769,2028"/><text x="796" y="2038">MSTRG.745</text></g>
<g id="m4328"><polygon class="pt" points="681,2015 712,2046 681,2077 650,2046"/><text x="679" y="2056">MSTRG.4328</text></g>
<g id="m112539"><polygon class="pr" points="580,2042 611,2073 580,2104 549,2073"/><text x="578" y="2083">MSTRG.112539</text></g>
<g id="m13008"><polygon class="pt" points="905,2025 936,2056 905,2087 874,2056"/><text x="902" y="2067">MSTRG.13008</text></g>
<g id="m102459"><polygon class="pt" points="1009,2062 1040,2093 1009,2124 978,2093"/><text x="1006" y="2103">MSTRG.102459</text></g>
<g id="m133727"><polygon class="pt" points="480,2089 511,2120 480,2151 449,2120"/><text x="477" y="2130">MSTRG.133727</text></g>
<g id="m20465"><polygon class="pt" points="1104,2117 1135,2148 1104,2179 1073,2148"/><text x="1100" y="2158">MSTRG.20465</text></g>
<g id="m29422"><polygon class="pt" points="390,2151 421,2182 390,2213 359,2182"/><text x="388" y="2192">MSTRG.29422</text></g>
<g id="m132067"><polygon class="pt" points="1188,2189 1219,2220 1188,2251 1157,2220"/><text x="1183" y="2230">MSTRG.132067</text></g>
<g id="m443"><polygon class="pt" points="315,2231 346,2262 315,2293 284,2262"/><text x="312" y="2272">MSTRG.443</text></g>
<g id="m69579"><polygon class="pr" points="1254,2275 1285,2306 1254,2337 1223,2306"/><text x="1251" y="2316">MSTRG.69579</text></g>
<g id="m110921"><polygon class="pt" points="257,2323 288,2354 257,2385 226,2354"/><text x="252" y="2364">MSTRG.110921</text></g>
<g id="m152515"><polygon class="pt" points="1305,2373 1336,2404 1305,2435 1274,2404"/><text x="1301" y="2414">MSTRG.152515</text></g>
<g id="m121973"><polygon class="pt" points="214,2425 245,2456 214,2487 183,2456"/><text x="212" y="2466">MSTRG.121973</text></g>
<g id="m68455"><polygon class="pt" points="1337,2478 1368,2509 1337,2540 1306,2509"/><text x="1333" y="2519">MSTRG.68455</text></g>
<g id="m148959"><polygon class="pt" points="195,2532 226,2563 195,2594 164,2563"/><text x="191" y="2573">MSTRG.148959</text></g>
<g id="m63799"><polygon class="pt" points="195,2643 226,2674 195,2705 164,2674"/><text x="192" y="2684">MSTRG.63799</text></g>
<g id="m17131"><polygon class="pt" points="214,2751 245,2782 214,2813 183,2782"/><text x="212" y="2792">MSTRG.17131</text></g>
<g id="gene1997"><polygon class="pt" points="257,2853 288,2884 257,2915 226,2884"/><text x="253" y="2894">gene1997</text></g>
<g id="m45736"><polygon class="pt" points="315,2944 346,2975 315,3006 284,2975"/><text x="312" y="2985">MSTRG.45736</text></g>
<g id="m54681"><polygon class="pr" points="390,3024 421,3055 390,3086 359,3055"/><text x="387" y="3065">MSTRG.54681</text></g>
<g id="m80261"><polygon class="pt" points="480,3088 511,3119 480,3150 449,3119"/><text x="476" y="3130">MSTRG.80261</text></g>
<g id="m131962"><polygon class="pt" points="662,3154 693,3185 662,3216 631,3185"/><text x="659" y="3195">MSTRG.131962</text></g>
<g id="gene7973"><polygon class="pt" points="562,3129 593,3160 562,3191 531,3160"/><text x="559" y="3170">gene7973</text></g>
<g id="m28650"><polygon class="pt" points="807,3178 838,3209 807,3240 776,3209"/><text x="804" y="3219">MSTRG.28650</text></g>
<g id="PLN"><circle class="pt" cx="1346" cy="2618" r="31"/><text x="1344" y="2629">PLN</text></g>
<g id="MYH11"><circle class="pt" cx="1336" cy="2728" r="31"/><text x="1331" y="2738">MYH11</text></g>
<g id="UGCG"><circle class="pt" cx="1305" cy="2834" r="31"/><text x="1301" y="2844">UGCG</text></g>
<g id="L358245"><circle class="pr" cx="1254" cy="2931" r="31"/><text x="1252" y="2941">LOC110358245</text></g>
<g id="L093801"><circle class="pr" cx="1188" cy="3018" r="31"/><text x="1183" y="3028">LOC102093801</text></g>
<g id="TOP11L1"><circle class="pt" cx="1104" cy="3089" r="31"/><text x="1100" y="3099">TOP11L1</text></g>
<g id="NR3C1"><circle class="pt" cx="1024" cy="3138" r="31"/><text x="1019" y="3148">NR3C1</text></g>
<g id="L089574"><circle class="pt" cx="920" cy="3178" r="31"/><text x="916" y="3188">LOC102089574</text></g>
<g id="N186"><polygon class="pt" points="793,2319 763,2379 823,2379"/><text x="788" y="2356">Novel_186</text></g>
<g id="N187"><polygon class="pr" points="592,2402 562,2461 622,2461"/><text x="587" y="2440">Novel_187</text></g>
<g id="N185"><polygon class="pr" points="993,2402 963,2461 1023,2461"/><text x="988" y="2440">Novel_185</text></g>
<g id="N188"><polygon class="pr" points="507,2604 477,2663 537,2663"/><text x="505" y="2642">Novel_188</text></g>
<g id="N6"><polygon class="pt" points="1076,2604 1046,2663 1106,2663"/><text x="1072" y="2642">Novel_6</text></g>
<g id="N189"><polygon class="pr" points="592,2803 562,2865 622,2865"/><text x="587" y="2843">Novel_189</text></g>
<g id="N55"><polygon class="pr" points="993,2803 963,2865 1023,2865"/><text x="988" y="2843">Novel_55</text></g>
<g id="N190"><polygon class="pr" points="793,2886 763,2947 823,2947"/><text x="788" y="2926">Novel_190</text></g>
<g id="ZNF750"><circle class="pr" cx="1639" cy="2267" r="30"/><text x="1635" y="2277">ZNF750</text></g>
<g id="ANKRD44"><circle class="pt" cx="1757" cy="2252" r="30"/><text x="1753" y="2262">ANKRD44</text></g>
<g id="L097216"><circle class="pt" cx="1868" cy="2294" r="30"/><text x="1864" y="2304">LOC102097216</text></g>
<g id="CHSY1"><circle class="pr" cx="1540" cy="2334" r="30"/><text x="1535" y="2344">CHSY1</text></g>
<g id="m152489"><polygon class="pt" points="1946,2354 1976,2384 1946,2414 1916,2384"/><text x="1943" y="2394">MSTRG.152489</text></g>
<g id="TTI1"><circle class="pr" cx="1484" cy="2440" r="30"/><text x="1480" y="2450">TTI1</text></g>
<g id="LYN"><circle class="pr" cx="1976" cy="2499" r="30"/><text x="1972" y="2509">LYN</text></g>
<g id="GPR50"><circle class="pt" cx="1484" cy="2559" r="30"/><text x="1481" y="2569">GPR50</text></g>
<g id="DHX36"><circle class="pr" cx="1946" cy="2616" r="30"/><text x="1943" y="2626">DHX36</text></g>
<g id="ATP12A"><circle class="pt" cx="1540" cy="2665" r="30"/><text x="1537" y="2675">ATP12A</text></g>
<g id="GLIS1"><circle class="pr" cx="1869" cy="2705" r="30"/><text x="1863" y="2715">GLIS1</text></g>
<g id="L098484"><circle class="pr" cx="1760" cy="2750" r="30"/></g>
<g id="GTF3C1"><circle class="pr" cx="1633" cy="2731" r="30"/><text x="1628" y="2741">GTF3C1</text></g>
<g id="L098484t"><text x="1757" y="2760">LOC102098484</text></g>
<g id="N160"><polygon class="pt" points="1725,2470 1694,2530 1756,2530"/><text x="1721" y="2509">Novel_160</text></g>
<g id="m181359"><polygon class="pt" points="1476,2745 1506,2775 1476,2805 1446,2775"/><text x="1471" y="2785">MSTRG.181359</text></g>
<g id="N72"><polygon class="pr" points="1531,2843 1502,2904 1562,2904"/><text x="1526" y="2883">Novel_72</text></g>
<g id="COL19A1"><circle class="pt" cx="1666" cy="2885" r="30"/><text x="1660" y="2895">COL19A1</text></g>
<g id="MAN2C1"><circle class="pr" cx="1475" cy="2995" r="30"/><text x="1470" y="3005">MAN2C1</text></g>
</g>
<g id="panel-c-nodes" class="lc">
<g id="PIEZO1"><circle class="pr" cx="2549" cy="2103" r="65"/><text x="2548" y="2116">PIEZO1</text></g>
<g id="MFSD13A"><circle class="pr" cx="2737" cy="2082" r="65"/><text x="2737" y="2095">MFSD13A</text></g>
<g id="DOT1Lc"><circle class="pr" cx="2926" cy="2154" r="65"/><text x="2926" y="2166">DOT1L</text></g>
<g id="ZWILCH"><circle class="pr" cx="2365" cy="2244" r="65"/><text x="2363" y="2256">ZWILCH</text></g>
<g id="UBN2"><circle class="pr" cx="2693" cy="2250" r="65"/><text x="2693" y="2263">UBN2</text></g>
<g id="PLAU"><circle class="pr" cx="3060" cy="2283" r="65"/><text x="3060" y="2296">PLAU</text></g>
<g id="ONECUT1"><circle class="pr" cx="2529" cy="2335" r="65"/><text x="2527" y="2348">ONECUT1</text></g>
<g id="NUP98"><circle class="pr" cx="2880" cy="2332" r="65"/><text x="2881" y="2345">NUP98</text></g>
<g id="PRDM1"><circle class="pt" cx="2285" cy="2435" r="65"/><text x="2284" y="2448">PRDM1</text></g>
<g id="FBXO32"><circle class="pt" cx="3108" cy="2461" r="65"/><text x="3108" y="2473">FBXO32</text></g>
<g id="L088970"><circle class="pt" cx="2459" cy="2526" r="65"/><text x="2460" y="2539">LOC102088970</text></g>
<g id="LRRC4B"><circle class="pt" cx="2926" cy="2548" r="65"/><text x="2926" y="2560">LRRC4B</text></g>
<g id="AMPD2"><circle class="pt" cx="2292" cy="2634" r="65"/><text x="2292" y="2647">AMPD2</text></g>
<g id="ASAP1"><circle class="pt" cx="3087" cy="2659" r="65"/><text x="3086" y="2672">ASAP1</text></g>
<g id="PRELP"><circle class="pt" cx="2555" cy="2725" r="65"/><text x="2555" y="2737">PRELP</text></g>
<g id="LRRN1"><circle class="pt" cx="2806" cy="2719" r="65"/><text x="2805" y="2732">LRRN1</text></g>
<g id="HIVEP1"><circle class="pt" cx="2390" cy="2809" r="65"/><text x="2390" y="2821">HIVEP1</text></g>
<g id="TMC3"><circle class="pt" cx="2971" cy="2834" r="65"/><text x="2971" y="2847">TMC3</text></g>
<g id="L089985"><circle class="pt" cx="2586" cy="2909" r="65"/><text x="2586" y="2922">LOC102089985</text></g>
<g id="NHS"><circle class="pt" cx="2790" cy="2925" r="65"/><text x="2790" y="2938">NHS</text></g>
<g id="let7c"><polygon class="pt" points="2693,2436 2628,2565 2758,2565"/><text x="2692" y="2513">cli-let-7c-5p</text></g>
<g id="circ"><polygon class="pr" points="2630,3113 2693,3154 2759,3113 2694,3242"/><text x="2694" y="3190">gga_circ_0003020</text></g>
</g>
<g id="panel-letters" class="big"><text x="105" y="184">a</text><text x="123" y="2102">b</text><text x="2130" y="2102">c</text></g>
</svg>
